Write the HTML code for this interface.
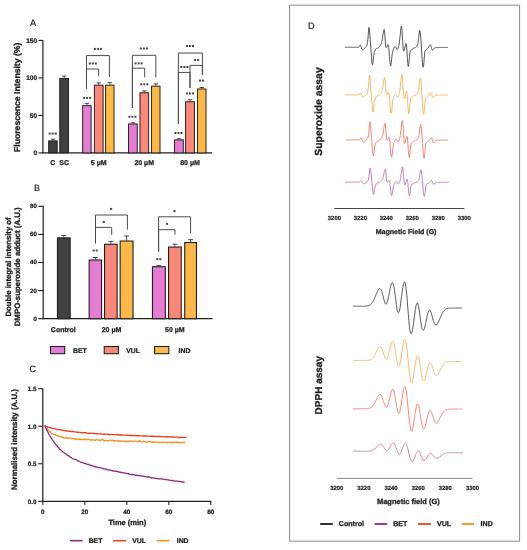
<!DOCTYPE html>
<html><head><meta charset="utf-8"><style>
html,body{margin:0;padding:0;background:#fff;}
body{width:527px;height:550px;overflow:hidden;}
svg{display:block;will-change:transform;}
text{font-family:"Liberation Sans",sans-serif;text-rendering:geometricPrecision;}
</style></head><body>
<svg width="527" height="550" viewBox="0 0 527 550">
<rect x="0" y="0" width="527" height="550" fill="#fff"/>
<text x="30.00" y="25.90" font-size="9.3" font-weight="normal" text-anchor="start" fill="#1a1a1a" stroke="#1a1a1a" stroke-width="0.15">A</text>
<line x1="42.90" y1="39.90" x2="42.90" y2="153.50" stroke="#1e1e1e" stroke-width="1.2"/>
<line x1="42.30" y1="152.90" x2="212.10" y2="152.90" stroke="#1e1e1e" stroke-width="1.2"/>
<line x1="38.40" y1="152.90" x2="42.90" y2="152.90" stroke="#1e1e1e" stroke-width="1.1"/>
<text x="37.20" y="155.25" font-size="6.6" font-weight="bold" text-anchor="end" fill="#1a1a1a" stroke="#1a1a1a" stroke-width="0.23">0</text>
<line x1="38.40" y1="115.40" x2="42.90" y2="115.40" stroke="#1e1e1e" stroke-width="1.1"/>
<text x="37.20" y="117.75" font-size="6.6" font-weight="bold" text-anchor="end" fill="#1a1a1a" stroke="#1a1a1a" stroke-width="0.23">50</text>
<line x1="38.40" y1="77.90" x2="42.90" y2="77.90" stroke="#1e1e1e" stroke-width="1.1"/>
<text x="37.20" y="80.25" font-size="6.6" font-weight="bold" text-anchor="end" fill="#1a1a1a" stroke="#1a1a1a" stroke-width="0.23">100</text>
<line x1="38.40" y1="40.40" x2="42.90" y2="40.40" stroke="#1e1e1e" stroke-width="1.1"/>
<text x="37.20" y="42.75" font-size="6.6" font-weight="bold" text-anchor="end" fill="#1a1a1a" stroke="#1a1a1a" stroke-width="0.23">150</text>
<text x="20.20" y="97.30" font-size="8.65" font-weight="bold" text-anchor="middle" fill="#1a1a1a" stroke="#1a1a1a" stroke-width="0.30" transform="rotate(-90 20.2 97.3)">Fluorescence Intensity (%)</text>
<line x1="52.95" y1="140.40" x2="52.95" y2="139.20" stroke="#1e1e1e" stroke-width="0.8"/>
<line x1="50.75" y1="139.20" x2="55.15" y2="139.20" stroke="#1e1e1e" stroke-width="0.8"/>
<rect x="48.68" y="140.88" width="8.55" height="12.03" fill="#404040" stroke="#1e1e1e" stroke-width="0.95"/>
<line x1="64.15" y1="78.00" x2="64.15" y2="76.00" stroke="#1e1e1e" stroke-width="0.8"/>
<line x1="61.95" y1="76.00" x2="66.35" y2="76.00" stroke="#1e1e1e" stroke-width="0.8"/>
<rect x="59.77" y="78.47" width="8.75" height="74.43" fill="#404040" stroke="#1e1e1e" stroke-width="0.95"/>
<line x1="86.90" y1="105.20" x2="86.90" y2="103.40" stroke="#1e1e1e" stroke-width="0.8"/>
<line x1="84.70" y1="103.40" x2="89.10" y2="103.40" stroke="#1e1e1e" stroke-width="0.8"/>
<rect x="82.67" y="105.67" width="8.45" height="47.23" fill="#E57BD3" stroke="#1e1e1e" stroke-width="0.95"/>
<line x1="98.75" y1="84.70" x2="98.75" y2="82.90" stroke="#1e1e1e" stroke-width="0.8"/>
<line x1="96.55" y1="82.90" x2="100.95" y2="82.90" stroke="#1e1e1e" stroke-width="0.8"/>
<rect x="94.38" y="85.17" width="8.75" height="67.73" fill="#F98878" stroke="#1e1e1e" stroke-width="0.95"/>
<line x1="109.80" y1="84.70" x2="109.80" y2="82.70" stroke="#1e1e1e" stroke-width="0.8"/>
<line x1="107.60" y1="82.70" x2="112.00" y2="82.70" stroke="#1e1e1e" stroke-width="0.8"/>
<rect x="105.57" y="85.17" width="8.45" height="67.73" fill="#FDB848" stroke="#1e1e1e" stroke-width="0.95"/>
<line x1="132.90" y1="123.50" x2="132.90" y2="122.80" stroke="#1e1e1e" stroke-width="0.8"/>
<line x1="130.70" y1="122.80" x2="135.10" y2="122.80" stroke="#1e1e1e" stroke-width="0.8"/>
<rect x="128.53" y="123.97" width="8.75" height="28.93" fill="#E57BD3" stroke="#1e1e1e" stroke-width="0.95"/>
<line x1="144.30" y1="92.30" x2="144.30" y2="90.90" stroke="#1e1e1e" stroke-width="0.8"/>
<line x1="142.10" y1="90.90" x2="146.50" y2="90.90" stroke="#1e1e1e" stroke-width="0.8"/>
<rect x="139.97" y="92.77" width="8.65" height="60.13" fill="#F98878" stroke="#1e1e1e" stroke-width="0.95"/>
<line x1="155.80" y1="85.70" x2="155.80" y2="83.90" stroke="#1e1e1e" stroke-width="0.8"/>
<line x1="153.60" y1="83.90" x2="158.00" y2="83.90" stroke="#1e1e1e" stroke-width="0.8"/>
<rect x="151.57" y="86.17" width="8.45" height="66.73" fill="#FDB848" stroke="#1e1e1e" stroke-width="0.95"/>
<line x1="178.90" y1="139.40" x2="178.90" y2="138.80" stroke="#1e1e1e" stroke-width="0.8"/>
<line x1="176.70" y1="138.80" x2="181.10" y2="138.80" stroke="#1e1e1e" stroke-width="0.8"/>
<rect x="174.53" y="139.88" width="8.75" height="13.03" fill="#E57BD3" stroke="#1e1e1e" stroke-width="0.95"/>
<line x1="190.00" y1="101.30" x2="190.00" y2="99.70" stroke="#1e1e1e" stroke-width="0.8"/>
<line x1="187.80" y1="99.70" x2="192.20" y2="99.70" stroke="#1e1e1e" stroke-width="0.8"/>
<rect x="185.57" y="101.77" width="8.85" height="51.13" fill="#F98878" stroke="#1e1e1e" stroke-width="0.95"/>
<line x1="201.80" y1="88.50" x2="201.80" y2="87.50" stroke="#1e1e1e" stroke-width="0.8"/>
<line x1="199.60" y1="87.50" x2="204.00" y2="87.50" stroke="#1e1e1e" stroke-width="0.8"/>
<rect x="197.57" y="88.97" width="8.45" height="63.93" fill="#FDB848" stroke="#1e1e1e" stroke-width="0.95"/>
<text x="52.90" y="164.70" font-size="7.0" font-weight="bold" text-anchor="middle" fill="#1a1a1a" stroke="#1a1a1a" stroke-width="0.25">C</text>
<text x="64.10" y="164.70" font-size="7.0" font-weight="bold" text-anchor="middle" fill="#1a1a1a" stroke="#1a1a1a" stroke-width="0.25">SC</text>
<text x="98.70" y="164.70" font-size="7.0" font-weight="bold" text-anchor="middle" fill="#1a1a1a" stroke="#1a1a1a" stroke-width="0.25">5 µM</text>
<text x="144.20" y="164.70" font-size="7.0" font-weight="bold" text-anchor="middle" fill="#1a1a1a" stroke="#1a1a1a" stroke-width="0.25">20 µM</text>
<text x="190.00" y="164.70" font-size="7.0" font-weight="bold" text-anchor="middle" fill="#1a1a1a" stroke="#1a1a1a" stroke-width="0.25">80 µM</text>
<path d="M86.50,89.00 L86.50,55.60 L109.40,55.60 L109.40,77.00" fill="none" stroke="#4a4a4a" stroke-width="1.0"/>
<path d="M86.50,89.00 L86.50,69.00 L98.70,69.00 L98.70,76.00" fill="none" stroke="#4a4a4a" stroke-width="1.0"/>
<rect x="93.85" y="47.90" width="2.00" height="2.00" fill="#454545"/>
<rect x="96.90" y="47.90" width="2.00" height="2.00" fill="#454545"/>
<rect x="99.95" y="47.90" width="2.00" height="2.00" fill="#454545"/>
<rect x="88.75" y="62.50" width="2.00" height="2.00" fill="#454545"/>
<rect x="91.80" y="62.50" width="2.00" height="2.00" fill="#454545"/>
<rect x="94.85" y="62.50" width="2.00" height="2.00" fill="#454545"/>
<rect x="83.05" y="96.90" width="2.00" height="2.00" fill="#454545"/>
<rect x="86.10" y="96.90" width="2.00" height="2.00" fill="#454545"/>
<rect x="89.15" y="96.90" width="2.00" height="2.00" fill="#454545"/>
<rect x="48.65" y="132.60" width="2.00" height="2.00" fill="#454545"/>
<rect x="51.70" y="132.60" width="2.00" height="2.00" fill="#454545"/>
<rect x="54.75" y="132.60" width="2.00" height="2.00" fill="#454545"/>
<path d="M132.40,108.00 L132.40,55.30 L155.80,55.30 L155.80,77.40" fill="none" stroke="#4a4a4a" stroke-width="1.0"/>
<path d="M132.40,108.00 L132.40,68.20 L144.70,68.20 L144.70,77.40" fill="none" stroke="#4a4a4a" stroke-width="1.0"/>
<rect x="139.85" y="47.50" width="2.00" height="2.00" fill="#454545"/>
<rect x="142.90" y="47.50" width="2.00" height="2.00" fill="#454545"/>
<rect x="145.95" y="47.50" width="2.00" height="2.00" fill="#454545"/>
<rect x="134.55" y="62.40" width="2.00" height="2.00" fill="#454545"/>
<rect x="137.60" y="62.40" width="2.00" height="2.00" fill="#454545"/>
<rect x="140.65" y="62.40" width="2.00" height="2.00" fill="#454545"/>
<rect x="140.25" y="83.30" width="2.00" height="2.00" fill="#454545"/>
<rect x="143.30" y="83.30" width="2.00" height="2.00" fill="#454545"/>
<rect x="146.35" y="83.30" width="2.00" height="2.00" fill="#454545"/>
<rect x="128.35" y="115.70" width="2.00" height="2.00" fill="#454545"/>
<rect x="131.40" y="115.70" width="2.00" height="2.00" fill="#454545"/>
<rect x="134.45" y="115.70" width="2.00" height="2.00" fill="#454545"/>
<path d="M178.40,124.00 L178.40,53.00 L202.40,53.00 L202.40,74.80" fill="none" stroke="#4a4a4a" stroke-width="1.0"/>
<path d="M190.00,88.00 L190.00,65.40 L202.40,65.40 L202.40,74.80" fill="none" stroke="#4a4a4a" stroke-width="1.0"/>
<path d="M178.40,124.00 L178.40,72.40 L190.00,72.40 L190.00,88.00" fill="none" stroke="#4a4a4a" stroke-width="1.0"/>
<rect x="185.95" y="45.00" width="2.00" height="2.00" fill="#454545"/>
<rect x="189.00" y="45.00" width="2.00" height="2.00" fill="#454545"/>
<rect x="192.05" y="45.00" width="2.00" height="2.00" fill="#454545"/>
<rect x="194.07" y="59.00" width="2.00" height="2.00" fill="#454545"/>
<rect x="197.12" y="59.00" width="2.00" height="2.00" fill="#454545"/>
<rect x="180.35" y="66.00" width="2.00" height="2.00" fill="#454545"/>
<rect x="183.40" y="66.00" width="2.00" height="2.00" fill="#454545"/>
<rect x="186.45" y="66.00" width="2.00" height="2.00" fill="#454545"/>
<rect x="199.07" y="79.60" width="2.00" height="2.00" fill="#454545"/>
<rect x="202.12" y="79.60" width="2.00" height="2.00" fill="#454545"/>
<rect x="185.95" y="92.40" width="2.00" height="2.00" fill="#454545"/>
<rect x="189.00" y="92.40" width="2.00" height="2.00" fill="#454545"/>
<rect x="192.05" y="92.40" width="2.00" height="2.00" fill="#454545"/>
<rect x="174.35" y="132.00" width="2.00" height="2.00" fill="#454545"/>
<rect x="177.40" y="132.00" width="2.00" height="2.00" fill="#454545"/>
<rect x="180.45" y="132.00" width="2.00" height="2.00" fill="#454545"/>
<text x="33.90" y="190.60" font-size="9.0" font-weight="normal" text-anchor="start" fill="#1a1a1a" stroke="#1a1a1a" stroke-width="0.15">B</text>
<line x1="43.20" y1="205.80" x2="43.20" y2="319.30" stroke="#1e1e1e" stroke-width="1.2"/>
<line x1="42.60" y1="318.70" x2="212.50" y2="318.70" stroke="#1e1e1e" stroke-width="1.2"/>
<line x1="38.20" y1="318.70" x2="43.20" y2="318.70" stroke="#1e1e1e" stroke-width="1.1"/>
<text x="37.00" y="320.60" font-size="6.2" font-weight="bold" text-anchor="end" fill="#1a1a1a" stroke="#1a1a1a" stroke-width="0.22">0</text>
<line x1="38.20" y1="290.60" x2="43.20" y2="290.60" stroke="#1e1e1e" stroke-width="1.1"/>
<text x="37.00" y="292.50" font-size="6.2" font-weight="bold" text-anchor="end" fill="#1a1a1a" stroke="#1a1a1a" stroke-width="0.22">20</text>
<line x1="38.20" y1="262.50" x2="43.20" y2="262.50" stroke="#1e1e1e" stroke-width="1.1"/>
<text x="37.00" y="264.40" font-size="6.2" font-weight="bold" text-anchor="end" fill="#1a1a1a" stroke="#1a1a1a" stroke-width="0.22">40</text>
<line x1="38.20" y1="234.40" x2="43.20" y2="234.40" stroke="#1e1e1e" stroke-width="1.1"/>
<text x="37.00" y="236.30" font-size="6.2" font-weight="bold" text-anchor="end" fill="#1a1a1a" stroke="#1a1a1a" stroke-width="0.22">60</text>
<line x1="38.20" y1="206.30" x2="43.20" y2="206.30" stroke="#1e1e1e" stroke-width="1.1"/>
<text x="37.00" y="208.20" font-size="6.2" font-weight="bold" text-anchor="end" fill="#1a1a1a" stroke="#1a1a1a" stroke-width="0.22">80</text>
<text x="10.70" y="267.00" font-size="7.7" font-weight="bold" text-anchor="middle" fill="#1a1a1a" stroke="#1a1a1a" stroke-width="0.27" transform="rotate(-90 10.7 267.0)">Double integral intensity of</text>
<text x="19.60" y="266.80" font-size="7.85" font-weight="bold" text-anchor="middle" fill="#1a1a1a" stroke="#1a1a1a" stroke-width="0.27" transform="rotate(-90 19.6 266.8)">DMPO-superoxide adduct (A.U.)</text>
<line x1="63.80" y1="237.30" x2="63.80" y2="235.50" stroke="#1e1e1e" stroke-width="0.8"/>
<line x1="61.40" y1="235.50" x2="66.20" y2="235.50" stroke="#1e1e1e" stroke-width="0.8"/>
<rect x="57.45" y="237.85" width="12.70" height="80.85" fill="#404040" stroke="#1e1e1e" stroke-width="1.1"/>
<line x1="95.35" y1="259.50" x2="95.35" y2="257.50" stroke="#1e1e1e" stroke-width="0.8"/>
<line x1="92.95" y1="257.50" x2="97.75" y2="257.50" stroke="#1e1e1e" stroke-width="0.8"/>
<rect x="89.15" y="260.05" width="12.40" height="58.65" fill="#E57BD3" stroke="#1e1e1e" stroke-width="1.1"/>
<line x1="110.85" y1="243.70" x2="110.85" y2="241.40" stroke="#1e1e1e" stroke-width="0.8"/>
<line x1="108.45" y1="241.40" x2="113.25" y2="241.40" stroke="#1e1e1e" stroke-width="0.8"/>
<rect x="104.55" y="244.25" width="12.60" height="74.45" fill="#F98878" stroke="#1e1e1e" stroke-width="1.1"/>
<line x1="126.60" y1="240.50" x2="126.60" y2="236.00" stroke="#1e1e1e" stroke-width="0.8"/>
<line x1="124.20" y1="236.00" x2="129.00" y2="236.00" stroke="#1e1e1e" stroke-width="0.8"/>
<rect x="120.15" y="241.05" width="12.90" height="77.65" fill="#FDB848" stroke="#1e1e1e" stroke-width="1.1"/>
<line x1="158.90" y1="266.20" x2="158.90" y2="265.60" stroke="#1e1e1e" stroke-width="0.8"/>
<line x1="156.50" y1="265.60" x2="161.30" y2="265.60" stroke="#1e1e1e" stroke-width="0.8"/>
<rect x="152.45" y="266.75" width="12.90" height="51.95" fill="#E57BD3" stroke="#1e1e1e" stroke-width="1.1"/>
<line x1="174.90" y1="246.50" x2="174.90" y2="244.20" stroke="#1e1e1e" stroke-width="0.8"/>
<line x1="172.50" y1="244.20" x2="177.30" y2="244.20" stroke="#1e1e1e" stroke-width="0.8"/>
<rect x="168.55" y="247.05" width="12.70" height="71.65" fill="#F98878" stroke="#1e1e1e" stroke-width="1.1"/>
<line x1="190.60" y1="242.00" x2="190.60" y2="239.70" stroke="#1e1e1e" stroke-width="0.8"/>
<line x1="188.20" y1="239.70" x2="193.00" y2="239.70" stroke="#1e1e1e" stroke-width="0.8"/>
<rect x="184.75" y="242.55" width="11.70" height="76.15" fill="#FDB848" stroke="#1e1e1e" stroke-width="1.1"/>
<text x="63.30" y="332.00" font-size="7.0" font-weight="bold" text-anchor="middle" fill="#1a1a1a" stroke="#1a1a1a" stroke-width="0.25">Control</text>
<text x="111.50" y="332.00" font-size="7.0" font-weight="bold" text-anchor="middle" fill="#1a1a1a" stroke="#1a1a1a" stroke-width="0.25">20 µM</text>
<text x="174.80" y="332.00" font-size="7.0" font-weight="bold" text-anchor="middle" fill="#1a1a1a" stroke="#1a1a1a" stroke-width="0.25">50 µM</text>
<path d="M95.50,243.30 L95.50,215.00 L127.40,215.00 L127.40,229.50" fill="none" stroke="#4a4a4a" stroke-width="1.0"/>
<path d="M95.50,243.30 L95.50,227.40 L111.70,227.40 L111.70,235.00" fill="none" stroke="#4a4a4a" stroke-width="1.0"/>
<rect x="110.10" y="207.90" width="2.00" height="2.00" fill="#454545"/>
<rect x="102.80" y="220.90" width="2.00" height="2.00" fill="#454545"/>
<rect x="92.67" y="249.50" width="2.00" height="2.00" fill="#454545"/>
<rect x="95.73" y="249.50" width="2.00" height="2.00" fill="#454545"/>
<path d="M158.60,251.60 L158.60,216.80 L190.60,216.80 L190.60,233.40" fill="none" stroke="#4a4a4a" stroke-width="1.0"/>
<path d="M158.60,251.60 L158.60,229.70 L175.00,229.70 L175.00,234.60" fill="none" stroke="#4a4a4a" stroke-width="1.0"/>
<rect x="173.50" y="210.10" width="2.00" height="2.00" fill="#454545"/>
<rect x="166.10" y="222.90" width="2.00" height="2.00" fill="#454545"/>
<rect x="156.28" y="258.20" width="2.00" height="2.00" fill="#454545"/>
<rect x="159.33" y="258.20" width="2.00" height="2.00" fill="#454545"/>
<rect x="50.50" y="346.50" width="14.20" height="7.20" fill="#E57BD3" stroke="#1e1e1e" stroke-width="1.05"/>
<text x="73.10" y="352.70" font-size="6.85" font-weight="bold" text-anchor="start" fill="#1a1a1a" stroke="#1a1a1a" stroke-width="0.24">BET</text>
<rect x="104.20" y="346.50" width="14.20" height="7.20" fill="#F98878" stroke="#1e1e1e" stroke-width="1.05"/>
<text x="126.20" y="352.70" font-size="6.85" font-weight="bold" text-anchor="start" fill="#1a1a1a" stroke="#1a1a1a" stroke-width="0.24">VUL</text>
<rect x="154.60" y="346.50" width="14.20" height="7.20" fill="#FDB848" stroke="#1e1e1e" stroke-width="1.05"/>
<text x="178.60" y="352.70" font-size="6.85" font-weight="bold" text-anchor="start" fill="#1a1a1a" stroke="#1a1a1a" stroke-width="0.24">IND</text>
<text x="29.50" y="372.00" font-size="9.0" font-weight="normal" text-anchor="start" fill="#1a1a1a" stroke="#1a1a1a" stroke-width="0.15">C</text>
<line x1="42.80" y1="388.15" x2="42.80" y2="501.90" stroke="#1e1e1e" stroke-width="1.2"/>
<line x1="42.20" y1="501.30" x2="211.30" y2="501.30" stroke="#1e1e1e" stroke-width="1.2"/>
<line x1="38.20" y1="501.30" x2="42.80" y2="501.30" stroke="#1e1e1e" stroke-width="1.1"/>
<text x="36.60" y="503.70" font-size="6.3" font-weight="bold" text-anchor="end" fill="#1a1a1a" stroke="#1a1a1a" stroke-width="0.22">0.0</text>
<line x1="38.20" y1="463.75" x2="42.80" y2="463.75" stroke="#1e1e1e" stroke-width="1.1"/>
<text x="36.60" y="466.15" font-size="6.3" font-weight="bold" text-anchor="end" fill="#1a1a1a" stroke="#1a1a1a" stroke-width="0.22">0.5</text>
<line x1="38.20" y1="426.20" x2="42.80" y2="426.20" stroke="#1e1e1e" stroke-width="1.1"/>
<text x="36.60" y="428.60" font-size="6.3" font-weight="bold" text-anchor="end" fill="#1a1a1a" stroke="#1a1a1a" stroke-width="0.22">1.0</text>
<line x1="38.20" y1="388.65" x2="42.80" y2="388.65" stroke="#1e1e1e" stroke-width="1.1"/>
<text x="36.60" y="391.05" font-size="6.3" font-weight="bold" text-anchor="end" fill="#1a1a1a" stroke="#1a1a1a" stroke-width="0.22">1.5</text>
<line x1="42.80" y1="501.30" x2="42.80" y2="504.90" stroke="#1e1e1e" stroke-width="1.1"/>
<text x="42.80" y="514.00" font-size="6.3" font-weight="bold" text-anchor="middle" fill="#1a1a1a" stroke="#1a1a1a" stroke-width="0.22">0</text>
<line x1="84.80" y1="501.30" x2="84.80" y2="504.90" stroke="#1e1e1e" stroke-width="1.1"/>
<text x="84.80" y="514.00" font-size="6.3" font-weight="bold" text-anchor="middle" fill="#1a1a1a" stroke="#1a1a1a" stroke-width="0.22">20</text>
<line x1="126.80" y1="501.30" x2="126.80" y2="504.90" stroke="#1e1e1e" stroke-width="1.1"/>
<text x="126.80" y="514.00" font-size="6.3" font-weight="bold" text-anchor="middle" fill="#1a1a1a" stroke="#1a1a1a" stroke-width="0.22">40</text>
<line x1="168.80" y1="501.30" x2="168.80" y2="504.90" stroke="#1e1e1e" stroke-width="1.1"/>
<text x="168.80" y="514.00" font-size="6.3" font-weight="bold" text-anchor="middle" fill="#1a1a1a" stroke="#1a1a1a" stroke-width="0.22">60</text>
<line x1="210.80" y1="501.30" x2="210.80" y2="504.90" stroke="#1e1e1e" stroke-width="1.1"/>
<text x="210.80" y="514.00" font-size="6.3" font-weight="bold" text-anchor="middle" fill="#1a1a1a" stroke="#1a1a1a" stroke-width="0.22">80</text>
<text x="127.30" y="525.30" font-size="7.5" font-weight="bold" text-anchor="middle" fill="#1a1a1a" stroke="#1a1a1a" stroke-width="0.26">Time (min)</text>
<text x="16.90" y="439.50" font-size="7.9" font-weight="bold" text-anchor="middle" fill="#1a1a1a" stroke="#1a1a1a" stroke-width="0.28" transform="rotate(-90 16.9 439.5)">Normalised intensity (A.U.)</text>
<path d="M45.11,426.19 L45.63,426.36 L46.16,426.53 L46.68,426.69 L47.21,426.85 L47.73,427.00 L48.26,427.15 L48.78,427.30 L49.31,427.43 L49.83,427.60 L50.36,427.75 L50.88,427.95 L51.41,428.13 L51.93,428.18 L52.45,428.25 L52.98,428.29 L53.50,428.42 L54.03,428.62 L54.55,428.74 L55.08,428.83 L55.60,428.84 L56.13,429.06 L56.65,429.42 L57.18,429.63 L57.70,429.57 L58.23,429.53 L58.75,429.59 L59.27,429.71 L59.80,429.83 L60.32,429.90 L60.85,429.98 L61.37,430.01 L61.90,430.09 L62.42,430.25 L62.95,430.33 L63.47,430.46 L64.00,430.44 L64.52,430.42 L65.05,430.52 L65.57,430.77 L66.09,431.00 L66.62,431.01 L67.14,430.93 L67.67,430.93 L68.19,431.05 L68.72,431.22 L69.24,431.28 L69.77,431.36 L70.29,431.33 L70.82,431.47 L71.34,431.44 L71.87,431.53 L72.39,431.54 L72.91,431.60 L73.44,431.74 L73.96,431.82 L74.49,431.92 L75.01,431.92 L75.54,431.92 L76.06,431.99 L76.59,432.10 L77.11,432.25 L77.64,432.31 L78.16,432.29 L78.69,432.34 L79.21,432.32 L79.73,432.39 L80.26,432.41 L80.78,432.58 L81.31,432.63 L81.83,432.63 L82.36,432.70 L82.88,432.70 L83.41,432.70 L83.93,432.64 L84.46,432.71 L84.98,432.72 L85.50,432.72 L86.03,432.83 L86.55,432.99 L87.08,433.10 L87.60,433.10 L88.13,433.26 L88.65,433.25 L89.18,433.32 L89.70,433.23 L90.23,433.31 L90.75,433.27 L91.28,433.33 L91.80,433.40 L92.32,433.46 L92.85,433.41 L93.37,433.42 L93.90,433.41 L94.42,433.50 L94.95,433.55 L95.47,433.57 L96.00,433.66 L96.52,433.62 L97.05,433.75 L97.57,433.72 L98.10,433.86 L98.62,433.91 L99.14,433.91 L99.67,433.87 L100.19,433.86 L100.72,433.97 L101.24,433.98 L101.77,434.09 L102.29,434.15 L102.82,434.21 L103.34,434.21 L103.87,434.22 L104.39,434.24 L104.92,434.24 L105.44,434.24 L105.96,434.18 L106.49,434.15 L107.01,434.11 L107.54,434.22 L108.06,434.32 L108.59,434.48 L109.11,434.53 L109.64,434.63 L110.16,434.62 L110.69,434.59 L111.21,434.43 L111.74,434.37 L112.26,434.48 L112.78,434.56 L113.31,434.68 L113.83,434.62 L114.36,434.67 L114.88,434.62 L115.41,434.55 L115.93,434.53 L116.46,434.48 L116.98,434.62 L117.51,434.71 L118.03,434.78 L118.56,434.73 L119.08,434.76 L119.60,434.85 L120.13,435.03 L120.65,435.04 L121.18,435.02 L121.70,434.98 L122.23,435.02 L122.75,435.16 L123.28,435.16 L123.80,435.11 L124.33,435.03 L124.85,435.06 L125.38,435.19 L125.90,435.15 L126.42,435.19 L126.95,435.16 L127.47,435.23 L128.00,435.36 L128.52,435.38 L129.05,435.44 L129.57,435.34 L130.10,435.29 L130.62,435.28 L131.15,435.41 L131.67,435.52 L132.20,435.55 L132.72,435.48 L133.24,435.54 L133.77,435.66 L134.29,435.66 L134.82,435.60 L135.34,435.54 L135.87,435.67 L136.39,435.62 L136.92,435.79 L137.44,435.74 L137.97,435.75 L138.49,435.63 L139.02,435.62 L139.54,435.81 L140.06,435.75 L140.59,435.85 L141.11,435.80 L141.64,435.88 L142.16,435.89 L142.69,435.88 L143.21,435.98 L143.74,435.98 L144.26,436.04 L144.79,436.01 L145.31,435.98 L145.84,435.95 L146.36,435.96 L146.88,436.03 L147.41,436.13 L147.93,436.15 L148.46,436.10 L148.98,436.11 L149.51,436.09 L150.03,436.16 L150.56,436.21 L151.08,436.20 L151.61,436.27 L152.13,436.25 L152.65,436.24 L153.18,436.26 L153.70,436.28 L154.23,436.46 L154.75,436.45 L155.28,436.54 L155.80,436.50 L156.33,436.52 L156.85,436.46 L157.38,436.38 L157.90,436.36 L158.43,436.35 L158.95,436.45 L159.47,436.50 L160.00,436.60 L160.52,436.70 L161.05,436.71 L161.57,436.60 L162.10,436.51 L162.62,436.56 L163.15,436.58 L163.67,436.64 L164.20,436.67 L164.72,436.83 L165.25,436.87 L165.77,436.88 L166.29,436.73 L166.82,436.72 L167.34,436.77 L167.87,436.92 L168.39,436.94 L168.92,437.00 L169.44,436.98 L169.97,436.95 L170.49,436.87 L171.02,436.87 L171.54,436.99 L172.07,437.11 L172.59,437.09 L173.11,436.99 L173.64,437.00 L174.16,437.08 L174.69,437.15 L175.21,437.07 L175.74,437.08 L176.26,437.13 L176.79,437.17 L177.31,437.19 L177.84,437.19 L178.36,437.31 L178.89,437.48 L179.41,437.54 L179.93,437.55 L180.46,437.41 L180.98,437.35 L181.51,437.27 L182.03,437.32 L182.56,437.38 L183.08,437.35 L183.61,437.39 L184.13,437.36 L184.66,437.41 L185.18,437.38 L185.71,437.37 L186.23,437.42" fill="none" stroke="#F03A1E" stroke-width="1.35" stroke-linejoin="round" stroke-linecap="round"/>
<path d="M45.11,426.27 L45.63,427.08 L46.16,427.83 L46.68,428.53 L47.21,429.18 L47.73,429.78 L48.26,430.35 L48.78,430.88 L49.31,431.03 L49.83,431.42 L50.36,431.77 L50.88,432.71 L51.41,433.22 L51.93,433.68 L52.45,434.02 L52.98,434.15 L53.50,434.31 L54.03,434.38 L54.55,434.73 L55.08,434.93 L55.60,435.06 L56.13,435.16 L56.65,435.43 L57.18,435.87 L57.70,436.05 L58.23,435.84 L58.75,436.01 L59.27,436.27 L59.80,436.55 L60.32,436.77 L60.85,436.90 L61.37,437.03 L61.90,436.92 L62.42,436.97 L62.95,437.10 L63.47,437.71 L64.00,437.66 L64.52,437.99 L65.05,437.90 L65.57,438.09 L66.09,437.91 L66.62,437.80 L67.14,438.07 L67.67,438.24 L68.19,438.24 L68.72,437.93 L69.24,437.88 L69.77,437.90 L70.29,438.00 L70.82,438.20 L71.34,438.42 L71.87,438.55 L72.39,438.48 L72.91,438.42 L73.44,438.67 L73.96,438.77 L74.49,439.15 L75.01,438.98 L75.54,438.98 L76.06,438.89 L76.59,439.02 L77.11,439.28 L77.64,438.96 L78.16,439.31 L78.69,439.34 L79.21,439.39 L79.73,438.94 L80.26,439.16 L80.78,439.38 L81.31,439.54 L81.83,439.34 L82.36,439.06 L82.88,439.32 L83.41,439.20 L83.93,439.63 L84.46,439.27 L84.98,439.36 L85.50,439.29 L86.03,439.79 L86.55,439.56 L87.08,439.42 L87.60,439.08 L88.13,439.19 L88.65,439.28 L89.18,439.52 L89.70,439.84 L90.23,440.04 L90.75,439.76 L91.28,439.89 L91.80,439.89 L92.32,440.17 L92.85,439.94 L93.37,439.79 L93.90,439.96 L94.42,440.28 L94.95,440.39 L95.47,440.05 L96.00,439.70 L96.52,439.69 L97.05,439.94 L97.57,440.04 L98.10,440.13 L98.62,439.99 L99.14,440.17 L99.67,440.14 L100.19,440.31 L100.72,440.13 L101.24,440.14 L101.77,439.76 L102.29,439.64 L102.82,439.47 L103.34,440.19 L103.87,440.49 L104.39,440.82 L104.92,440.46 L105.44,440.77 L105.96,440.53 L106.49,440.47 L107.01,440.35 L107.54,440.69 L108.06,440.99 L108.59,440.81 L109.11,440.59 L109.64,440.18 L110.16,440.24 L110.69,440.24 L111.21,440.55 L111.74,440.28 L112.26,440.30 L112.78,440.14 L113.31,440.59 L113.83,440.75 L114.36,441.09 L114.88,440.73 L115.41,440.62 L115.93,440.56 L116.46,440.88 L116.98,440.92 L117.51,441.00 L118.03,441.09 L118.56,441.11 L119.08,440.65 L119.60,440.57 L120.13,440.75 L120.65,441.31 L121.18,441.49 L121.70,441.35 L122.23,441.06 L122.75,440.88 L123.28,440.93 L123.80,441.06 L124.33,441.05 L124.85,441.35 L125.38,441.46 L125.90,441.48 L126.42,441.38 L126.95,441.40 L127.47,441.56 L128.00,441.51 L128.52,441.33 L129.05,441.28 L129.57,441.27 L130.10,441.29 L130.62,441.15 L131.15,440.89 L131.67,441.35 L132.20,441.33 L132.72,441.67 L133.24,441.36 L133.77,441.37 L134.29,441.16 L134.82,441.04 L135.34,441.15 L135.87,441.09 L136.39,441.30 L136.92,441.36 L137.44,441.50 L137.97,441.56 L138.49,441.23 L139.02,441.21 L139.54,440.81 L140.06,441.16 L140.59,441.38 L141.11,441.70 L141.64,441.60 L142.16,441.65 L142.69,441.63 L143.21,441.76 L143.74,441.44 L144.26,441.61 L144.79,441.46 L145.31,441.82 L145.84,441.88 L146.36,442.15 L146.88,442.25 L147.41,442.10 L147.93,441.85 L148.46,441.66 L148.98,441.60 L149.51,441.53 L150.03,441.52 L150.56,441.60 L151.08,441.90 L151.61,442.20 L152.13,442.12 L152.65,442.36 L153.18,442.03 L153.70,442.16 L154.23,441.74 L154.75,441.86 L155.28,442.00 L155.80,442.12 L156.33,442.21 L156.85,442.13 L157.38,442.19 L157.90,442.14 L158.43,442.15 L158.95,442.29 L159.47,442.31 L160.00,442.62 L160.52,442.53 L161.05,442.69 L161.57,442.21 L162.10,442.01 L162.62,442.14 L163.15,442.29 L163.67,442.51 L164.20,442.39 L164.72,442.34 L165.25,442.40 L165.77,442.52 L166.29,442.66 L166.82,442.62 L167.34,442.35 L167.87,442.50 L168.39,442.40 L168.92,442.32 L169.44,442.31 L169.97,442.52 L170.49,442.65 L171.02,442.57 L171.54,442.22 L172.07,442.19 L172.59,442.27 L173.11,442.66 L173.64,442.71 L174.16,442.22 L174.69,442.14 L175.21,442.12 L175.74,442.40 L176.26,442.39 L176.79,442.08 L177.31,442.24 L177.84,442.13 L178.36,442.46 L178.89,442.30 L179.41,442.60 L179.93,442.36 L180.46,442.49 L180.98,442.31 L181.51,442.73 L182.03,442.83 L182.56,442.76 L183.08,442.48 L183.61,442.27 L184.13,442.18 L184.66,442.23" fill="none" stroke="#F7901C" stroke-width="1.35" stroke-linejoin="round" stroke-linecap="round"/>
<path d="M45.11,426.05 L45.63,427.27 L46.16,428.45 L46.68,429.60 L47.21,430.70 L47.73,431.77 L48.26,432.81 L48.78,433.81 L49.31,434.66 L49.83,435.75 L50.36,436.55 L50.88,437.56 L51.41,438.37 L51.93,439.20 L52.45,439.92 L52.98,440.61 L53.50,441.41 L54.03,442.12 L54.55,442.92 L55.08,443.76 L55.60,444.43 L56.13,444.95 L56.65,445.53 L57.18,445.96 L57.70,446.69 L58.23,447.12 L58.75,447.81 L59.27,448.51 L59.80,449.15 L60.32,449.65 L60.85,450.07 L61.37,450.61 L61.90,451.06 L62.42,451.48 L62.95,451.95 L63.47,452.46 L64.00,452.77 L64.52,453.09 L65.05,453.36 L65.57,453.70 L66.09,454.04 L66.62,454.57 L67.14,455.14 L67.67,455.50 L68.19,455.69 L68.72,455.91 L69.24,456.19 L69.77,456.61 L70.29,456.92 L70.82,457.30 L71.34,457.59 L71.87,458.00 L72.39,458.37 L72.91,458.66 L73.44,458.92 L73.96,459.14 L74.49,459.31 L75.01,459.49 L75.54,459.46 L76.06,459.68 L76.59,459.96 L77.11,460.36 L77.64,460.64 L78.16,460.87 L78.69,461.07 L79.21,461.37 L79.73,461.76 L80.26,462.00 L80.78,462.20 L81.31,462.06 L81.83,462.37 L82.36,462.61 L82.88,462.80 L83.41,463.02 L83.93,463.11 L84.46,463.30 L84.98,463.39 L85.50,463.60 L86.03,463.88 L86.55,464.00 L87.08,464.22 L87.60,464.36 L88.13,464.54 L88.65,464.47 L89.18,464.71 L89.70,464.98 L90.23,465.26 L90.75,465.42 L91.28,465.49 L91.80,465.69 L92.32,465.72 L92.85,465.94 L93.37,466.11 L93.90,466.54 L94.42,466.70 L94.95,466.72 L95.47,466.72 L96.00,466.85 L96.52,467.20 L97.05,467.24 L97.57,467.31 L98.10,467.44 L98.62,467.57 L99.14,467.70 L99.67,467.68 L100.19,467.91 L100.72,467.93 L101.24,468.09 L101.77,468.17 L102.29,468.47 L102.82,468.64 L103.34,468.69 L103.87,468.80 L104.39,468.82 L104.92,468.96 L105.44,468.96 L105.96,469.10 L106.49,469.27 L107.01,469.63 L107.54,469.79 L108.06,469.84 L108.59,469.80 L109.11,469.90 L109.64,470.11 L110.16,470.26 L110.69,470.48 L111.21,470.46 L111.74,470.53 L112.26,470.61 L112.78,470.92 L113.31,471.05 L113.83,471.02 L114.36,470.99 L114.88,471.14 L115.41,471.25 L115.93,471.28 L116.46,471.26 L116.98,471.41 L117.51,471.54 L118.03,471.67 L118.56,471.78 L119.08,472.03 L119.60,472.06 L120.13,472.20 L120.65,472.09 L121.18,472.46 L121.70,472.52 L122.23,472.70 L122.75,472.67 L123.28,472.79 L123.80,472.91 L124.33,472.94 L124.85,473.11 L125.38,473.27 L125.90,473.34 L126.42,473.30 L126.95,473.37 L127.47,473.54 L128.00,473.72 L128.52,473.74 L129.05,473.92 L129.57,474.13 L130.10,474.29 L130.62,474.39 L131.15,474.42 L131.67,474.52 L132.20,474.49 L132.72,474.62 L133.24,474.66 L133.77,474.92 L134.29,474.89 L134.82,475.16 L135.34,475.21 L135.87,475.29 L136.39,475.29 L136.92,475.34 L137.44,475.51 L137.97,475.54 L138.49,475.57 L139.02,475.62 L139.54,475.67 L140.06,475.80 L140.59,475.92 L141.11,476.13 L141.64,476.07 L142.16,476.05 L142.69,476.00 L143.21,476.17 L143.74,476.34 L144.26,476.46 L144.79,476.57 L145.31,476.58 L145.84,476.67 L146.36,476.78 L146.88,476.93 L147.41,477.08 L147.93,476.98 L148.46,476.86 L148.98,476.94 L149.51,477.15 L150.03,477.59 L150.56,477.65 L151.08,477.73 L151.61,477.72 L152.13,477.76 L152.65,477.95 L153.18,477.97 L153.70,478.10 L154.23,478.15 L154.75,478.15 L155.28,478.16 L155.80,478.25 L156.33,478.50 L156.85,478.61 L157.38,478.58 L157.90,478.64 L158.43,478.79 L158.95,478.87 L159.47,478.87 L160.00,478.86 L160.52,478.90 L161.05,478.83 L161.57,478.86 L162.10,478.91 L162.62,479.04 L163.15,479.12 L163.67,479.19 L164.20,479.44 L164.72,479.54 L165.25,479.67 L165.77,479.52 L166.29,479.65 L166.82,479.69 L167.34,479.86 L167.87,479.81 L168.39,479.91 L168.92,480.03 L169.44,480.20 L169.97,480.32 L170.49,480.36 L171.02,480.45 L171.54,480.47 L172.07,480.41 L172.59,480.51 L173.11,480.59 L173.64,480.82 L174.16,480.81 L174.69,480.97 L175.21,481.08 L175.74,481.20 L176.26,481.14 L176.79,481.16 L177.31,481.26 L177.84,481.43 L178.36,481.46 L178.89,481.38 L179.41,481.36 L179.93,481.45 L180.46,481.59 L180.98,481.75 L181.51,481.85 L182.03,481.97 L182.56,481.95 L183.08,481.99 L183.61,482.13 L184.13,482.13" fill="none" stroke="#8F2A80" stroke-width="1.35" stroke-linejoin="round" stroke-linecap="round"/>
<line x1="70.10" y1="540.70" x2="82.60" y2="540.70" stroke="#8F2A80" stroke-width="1.6"/>
<text x="88.70" y="543.30" font-size="6.8" font-weight="bold" text-anchor="start" fill="#1a1a1a" stroke="#1a1a1a" stroke-width="0.24">BET</text>
<line x1="113.20" y1="540.70" x2="125.90" y2="540.70" stroke="#F03A1E" stroke-width="1.6"/>
<text x="132.20" y="543.30" font-size="6.8" font-weight="bold" text-anchor="start" fill="#1a1a1a" stroke="#1a1a1a" stroke-width="0.24">VUL</text>
<line x1="157.00" y1="540.70" x2="169.50" y2="540.70" stroke="#F7901C" stroke-width="1.6"/>
<text x="176.80" y="543.30" font-size="6.8" font-weight="bold" text-anchor="start" fill="#1a1a1a" stroke="#1a1a1a" stroke-width="0.24">IND</text>
<rect x="289.6" y="5.2" width="230.0" height="536.0" fill="none" stroke="#8a8a8a" stroke-width="1.0"/>
<text x="308.00" y="28.90" font-size="9.2" font-weight="normal" text-anchor="start" fill="#1a1a1a" stroke="#1a1a1a" stroke-width="0.15">D</text>
<text x="322.10" y="111.50" font-size="10.4" font-weight="bold" text-anchor="middle" fill="#1a1a1a" stroke="#1a1a1a" stroke-width="0.30" transform="rotate(-90 322.09999999999997 111.5)">Superoxide assay</text>
<text x="321.80" y="385.20" font-size="10.0" font-weight="bold" text-anchor="middle" fill="#1a1a1a" stroke="#1a1a1a" stroke-width="0.30" transform="rotate(-90 321.8 385.2)">DPPH assay</text>
<line x1="334.30" y1="208.50" x2="464.40" y2="208.50" stroke="#444" stroke-width="1.0"/>
<text x="334.40" y="219.70" font-size="5.9" font-weight="bold" text-anchor="middle" fill="#222" stroke="#222" stroke-width="0.21">3200</text>
<text x="360.36" y="219.70" font-size="5.9" font-weight="bold" text-anchor="middle" fill="#222" stroke="#222" stroke-width="0.21">3220</text>
<text x="386.32" y="219.70" font-size="5.9" font-weight="bold" text-anchor="middle" fill="#222" stroke="#222" stroke-width="0.21">3240</text>
<text x="412.28" y="219.70" font-size="5.9" font-weight="bold" text-anchor="middle" fill="#222" stroke="#222" stroke-width="0.21">3260</text>
<text x="438.24" y="219.70" font-size="5.9" font-weight="bold" text-anchor="middle" fill="#222" stroke="#222" stroke-width="0.21">3280</text>
<text x="464.20" y="219.70" font-size="5.9" font-weight="bold" text-anchor="middle" fill="#222" stroke="#222" stroke-width="0.21">3300</text>
<text x="406.10" y="233.80" font-size="7.0" font-weight="bold" text-anchor="middle" fill="#1a1a1a" stroke="#1a1a1a" stroke-width="0.25">Magnetic Field (G)</text>
<line x1="336.70" y1="478.40" x2="472.50" y2="478.40" stroke="#888" stroke-width="1.0"/>
<text x="336.70" y="489.90" font-size="5.9" font-weight="bold" text-anchor="middle" fill="#222" stroke="#222" stroke-width="0.21">3200</text>
<text x="363.86" y="489.90" font-size="5.9" font-weight="bold" text-anchor="middle" fill="#222" stroke="#222" stroke-width="0.21">3220</text>
<text x="391.02" y="489.90" font-size="5.9" font-weight="bold" text-anchor="middle" fill="#222" stroke="#222" stroke-width="0.21">3240</text>
<text x="418.18" y="489.90" font-size="5.9" font-weight="bold" text-anchor="middle" fill="#222" stroke="#222" stroke-width="0.21">3260</text>
<text x="445.34" y="489.90" font-size="5.9" font-weight="bold" text-anchor="middle" fill="#222" stroke="#222" stroke-width="0.21">3280</text>
<text x="472.50" y="489.90" font-size="5.9" font-weight="bold" text-anchor="middle" fill="#222" stroke="#222" stroke-width="0.21">3300</text>
<text x="408.40" y="503.80" font-size="7.5" font-weight="bold" text-anchor="middle" fill="#1a1a1a" stroke="#1a1a1a" stroke-width="0.26">Magnetic field (G)</text>
<line x1="320.20" y1="524.00" x2="332.80" y2="524.00" stroke="#1a1a1a" stroke-width="1.8"/>
<text x="338.80" y="526.20" font-size="7.1" font-weight="bold" text-anchor="start" fill="#1a1a1a" stroke="#1a1a1a" stroke-width="0.25">Control</text>
<line x1="374.60" y1="524.00" x2="387.40" y2="524.00" stroke="#8F2A80" stroke-width="1.8"/>
<text x="393.20" y="526.20" font-size="7.1" font-weight="bold" text-anchor="start" fill="#1a1a1a" stroke="#1a1a1a" stroke-width="0.25">BET</text>
<line x1="417.90" y1="524.00" x2="430.90" y2="524.00" stroke="#F03A1E" stroke-width="1.8"/>
<text x="437.00" y="526.20" font-size="7.1" font-weight="bold" text-anchor="start" fill="#1a1a1a" stroke="#1a1a1a" stroke-width="0.25">VUL</text>
<line x1="461.60" y1="524.00" x2="474.00" y2="524.00" stroke="#F7901C" stroke-width="1.8"/>
<text x="480.60" y="526.20" font-size="7.1" font-weight="bold" text-anchor="start" fill="#1a1a1a" stroke="#1a1a1a" stroke-width="0.25">IND</text>
<path d="M345.20,47.30 L345.45,47.30 L345.70,47.30 L345.95,47.30 L346.20,47.30 L346.45,47.30 L346.70,47.30 L346.95,47.30 L347.20,47.30 L347.45,47.30 L347.70,47.30 L347.95,47.30 L348.20,47.30 L348.45,47.30 L348.70,47.30 L348.95,47.30 L349.20,47.30 L349.45,47.30 L349.70,47.30 L349.95,47.30 L350.20,47.30 L350.45,47.30 L350.70,47.30 L350.95,47.30 L351.20,47.30 L351.45,47.30 L351.70,47.30 L351.95,47.30 L352.20,47.30 L352.45,47.30 L352.70,47.30 L352.95,47.30 L353.20,47.30 L353.45,47.30 L353.70,47.30 L353.95,47.30 L354.20,47.30 L354.45,47.30 L354.70,47.30 L354.95,47.30 L355.20,47.30 L355.45,47.30 L355.70,47.30 L355.95,47.30 L356.20,47.30 L356.45,47.30 L356.70,47.30 L356.95,47.30 L357.20,47.30 L357.45,47.30 L357.70,47.30 L357.95,47.30 L358.20,47.30 L358.45,47.30 L358.70,47.22 L358.95,46.92 L359.20,46.49 L359.45,46.01 L359.70,45.56 L359.95,45.23 L360.20,45.10 L360.45,45.26 L360.70,45.70 L360.95,46.34 L361.20,47.09 L361.45,47.87 L361.70,48.60 L361.95,49.20 L362.20,49.59 L362.45,49.70 L362.70,49.65 L362.95,49.56 L363.20,49.41 L363.45,49.23 L363.70,49.02 L363.95,48.80 L364.20,48.57 L364.45,48.33 L364.70,48.11 L364.95,47.90 L365.20,47.69 L365.45,47.46 L365.70,47.21 L365.95,46.92 L366.20,46.58 L366.45,46.18 L366.70,45.71 L366.95,45.07 L367.20,43.94 L367.45,42.43 L367.70,40.71 L367.95,38.64 L368.20,35.46 L368.45,31.94 L368.70,28.97 L368.95,27.45 L369.20,27.88 L369.45,29.66 L369.70,32.40 L369.95,35.76 L370.20,39.39 L370.45,42.92 L370.70,46.00 L370.95,49.09 L371.20,52.63 L371.45,56.28 L371.70,59.66 L371.95,62.42 L372.20,64.21 L372.45,64.68 L372.70,63.93 L372.95,62.35 L373.20,60.23 L373.45,57.89 L373.70,55.62 L373.95,53.72 L374.20,52.50 L374.45,51.75 L374.70,51.07 L374.95,50.48 L375.20,49.96 L375.45,49.54 L375.70,49.20 L375.95,48.96 L376.20,48.78 L376.45,48.63 L376.70,48.51 L376.95,48.41 L377.20,48.31 L377.45,48.22 L377.70,48.13 L377.95,48.02 L378.20,47.89 L378.45,47.74 L378.70,47.54 L378.95,47.30 L379.20,47.03 L379.45,46.72 L379.70,46.38 L379.95,46.03 L380.20,45.65 L380.45,45.27 L380.70,44.85 L380.95,44.40 L381.20,43.88 L381.45,43.30 L381.70,42.59 L381.95,41.51 L382.20,40.10 L382.45,38.46 L382.70,36.69 L382.95,34.90 L383.20,33.20 L383.45,31.70 L383.70,30.49 L383.95,29.69 L384.20,29.40 L384.45,30.36 L384.70,32.85 L384.95,36.28 L385.20,40.07 L385.45,43.62 L385.70,46.34 L385.95,47.66 L386.20,47.62 L386.45,47.32 L386.70,46.87 L386.95,46.33 L387.20,45.76 L387.45,45.23 L387.70,44.80 L387.95,44.55 L388.20,44.60 L388.45,45.65 L388.70,47.62 L388.95,50.27 L389.20,53.32 L389.45,56.54 L389.70,59.65 L389.95,62.40 L390.20,64.52 L390.45,65.78 L390.70,65.91 L390.95,64.98 L391.20,63.28 L391.45,61.07 L391.70,58.64 L391.95,56.24 L392.20,54.17 L392.45,52.70 L392.70,51.78 L392.95,50.90 L393.20,50.06 L393.45,49.27 L393.70,48.54 L393.95,47.90 L394.20,47.35 L394.45,46.91 L394.70,46.60 L394.95,46.43 L395.20,46.42 L395.45,46.63 L395.70,47.01 L395.95,47.51 L396.20,48.06 L396.45,48.60 L396.70,49.06 L396.95,49.38 L397.20,49.50 L397.45,49.38 L397.70,49.05 L397.95,48.54 L398.20,47.88 L398.45,47.10 L398.70,46.23 L398.95,45.30 L399.20,43.84 L399.45,41.84 L399.70,39.55 L399.95,37.22 L400.20,35.10 L400.45,32.90 L400.70,30.44 L400.95,28.20 L401.20,26.65 L401.45,26.23 L401.70,27.37 L401.95,29.81 L402.20,33.17 L402.45,37.07 L402.70,41.13 L402.95,44.96 L403.20,48.17 L403.45,50.38 L403.70,51.20 L403.95,50.96 L404.20,50.33 L404.45,49.39 L404.70,48.27 L404.95,47.06 L405.20,45.87 L405.45,44.81 L405.70,43.98 L405.95,43.49 L406.20,43.54 L406.45,44.97 L406.70,47.62 L406.95,51.08 L407.20,54.95 L407.45,58.82 L407.70,62.28 L407.95,64.93 L408.20,66.36 L408.45,66.26 L408.70,64.94 L408.95,62.77 L409.20,60.09 L409.45,57.23 L409.70,54.54 L409.95,52.36 L410.20,51.02 L410.45,50.64 L410.70,50.43 L410.95,50.28 L411.20,50.14 L411.45,50.00 L411.70,49.82 L411.95,49.62 L412.20,49.40 L412.45,49.18 L412.70,48.95 L412.95,48.74 L413.20,48.53 L413.45,48.35 L413.70,48.20 L413.95,48.08 L414.20,47.98 L414.45,47.89 L414.70,47.81 L414.95,47.74 L415.20,47.65 L415.45,47.55 L415.70,47.42 L415.95,47.27 L416.20,47.06 L416.45,46.78 L416.70,46.45 L416.95,46.05 L417.20,45.58 L417.45,45.05 L417.70,44.46 L417.95,43.64 L418.20,42.08 L418.45,39.97 L418.70,37.57 L418.95,35.15 L419.20,32.97 L419.45,31.30 L419.70,30.39 L419.95,30.51 L420.20,31.72 L420.45,33.84 L420.70,36.71 L420.95,40.14 L421.20,43.95 L421.45,47.98 L421.70,52.05 L421.95,55.97 L422.20,59.58 L422.45,62.69 L422.70,65.13 L422.95,66.73 L423.20,67.30 L423.45,66.57 L423.70,64.64 L423.95,61.92 L424.20,58.82 L424.45,55.74 L424.70,53.10 L424.95,51.31 L425.20,50.64 L425.45,50.28 L425.70,49.99 L425.95,49.75 L426.20,49.55 L426.45,49.39 L426.70,49.23 L426.95,49.09 L427.20,48.94 L427.45,48.78 L427.70,48.59 L427.95,48.36 L428.20,48.08 L428.45,47.69 L428.70,47.22 L428.95,46.71 L429.20,46.19 L429.45,45.70 L429.70,45.29 L429.95,44.98 L430.20,44.82 L430.45,44.87 L430.70,45.28 L430.95,45.96 L431.20,46.81 L431.45,47.74 L431.70,48.65 L431.95,49.44 L432.20,50.02 L432.45,50.29 L432.70,50.26 L432.95,50.10 L433.20,49.85 L433.45,49.53 L433.70,49.18 L433.95,48.81 L434.20,48.45 L434.45,48.14 L434.70,47.89 L434.95,47.74 L435.20,47.69 L435.45,47.67 L435.70,47.65 L435.95,47.63 L436.20,47.62 L436.45,47.60 L436.70,47.59 L436.95,47.57 L437.20,47.56 L437.45,47.55 L437.70,47.54 L437.95,47.53 L438.20,47.52 L438.45,47.52 L438.70,47.51 L438.95,47.51 L439.20,47.50 L439.45,47.50 L439.70,47.50 L439.95,47.50 L440.20,47.50 L440.45,47.50 L440.70,47.50 L440.95,47.50 L441.20,47.50 L441.45,47.50 L441.70,47.50 L441.95,47.50 L442.20,47.50 L442.45,47.50 L442.70,47.50 L442.95,47.50 L443.20,47.50 L443.45,47.50 L443.70,47.50 L443.95,47.50 L444.20,47.50 L444.45,47.50 L444.70,47.50 L444.95,47.50 L445.20,47.50 L445.45,47.50 L445.70,47.50 L445.95,47.50 L446.20,47.50 L446.45,47.50 L446.70,47.50 L446.95,47.50 L447.20,47.50 L447.45,47.50" fill="none" stroke="#2a2a2a" stroke-width="0.8" stroke-linejoin="round" stroke-linecap="round"/>
<path d="M345.20,94.90 L345.45,94.90 L345.70,94.90 L345.95,94.90 L346.20,94.90 L346.45,94.90 L346.70,94.90 L346.95,94.90 L347.20,94.90 L347.45,94.90 L347.70,94.90 L347.95,94.90 L348.20,94.90 L348.45,94.90 L348.70,94.90 L348.95,94.90 L349.20,94.90 L349.45,94.90 L349.70,94.90 L349.95,94.90 L350.20,94.90 L350.45,94.90 L350.70,94.90 L350.95,94.90 L351.20,94.90 L351.45,94.90 L351.70,94.90 L351.95,94.90 L352.20,94.90 L352.45,94.90 L352.70,94.90 L352.95,94.90 L353.20,94.90 L353.45,94.90 L353.70,94.90 L353.95,94.90 L354.20,94.90 L354.45,94.90 L354.70,94.90 L354.95,94.90 L355.20,94.90 L355.45,94.90 L355.70,94.90 L355.95,94.90 L356.20,94.90 L356.45,94.90 L356.70,94.90 L356.95,94.90 L357.20,94.90 L357.45,94.90 L357.70,94.90 L357.95,94.90 L358.20,94.90 L358.45,94.90 L358.70,94.90 L358.95,94.90 L359.20,94.82 L359.45,94.53 L359.70,94.10 L359.95,93.63 L360.20,93.19 L360.45,92.87 L360.70,92.74 L360.95,92.91 L361.20,93.34 L361.45,93.96 L361.70,94.69 L361.95,95.46 L362.20,96.17 L362.45,96.76 L362.70,97.15 L362.95,97.25 L363.20,97.21 L363.45,97.11 L363.70,96.97 L363.95,96.79 L364.20,96.59 L364.45,96.37 L364.70,96.14 L364.95,95.91 L365.20,95.70 L365.45,95.49 L365.70,95.28 L365.95,95.06 L366.20,94.81 L366.45,94.53 L366.70,94.19 L366.95,93.80 L367.20,93.34 L367.45,92.71 L367.70,91.60 L367.95,90.13 L368.20,88.45 L368.45,86.41 L368.70,83.30 L368.95,79.85 L369.20,76.93 L369.45,75.45 L369.70,75.87 L369.95,77.61 L370.20,80.30 L370.45,83.59 L370.70,87.14 L370.95,90.60 L371.20,93.63 L371.45,96.65 L371.70,100.13 L371.95,103.70 L372.20,107.01 L372.45,109.72 L372.70,111.47 L372.95,111.93 L373.20,111.19 L373.45,109.64 L373.70,107.57 L373.95,105.28 L374.20,103.05 L374.45,101.19 L374.70,100.00 L374.95,99.26 L375.20,98.60 L375.45,98.01 L375.70,97.51 L375.95,97.09 L376.20,96.76 L376.45,96.53 L376.70,96.35 L376.95,96.20 L377.20,96.08 L377.45,95.98 L377.70,95.89 L377.95,95.81 L378.20,95.71 L378.45,95.61 L378.70,95.48 L378.95,95.33 L379.20,95.14 L379.45,94.90 L379.70,94.63 L379.95,94.33 L380.20,94.00 L380.45,93.65 L380.70,93.29 L380.95,92.91 L381.20,92.50 L381.45,92.06 L381.70,91.55 L381.95,90.98 L382.20,90.28 L382.45,89.23 L382.70,87.84 L382.95,86.23 L383.20,84.50 L383.45,82.75 L383.70,81.09 L383.95,79.61 L384.20,78.43 L384.45,77.64 L384.70,77.36 L384.95,78.30 L385.20,80.74 L385.45,84.10 L385.70,87.81 L385.95,91.29 L386.20,93.96 L386.45,95.25 L386.70,95.21 L386.95,94.92 L387.20,94.48 L387.45,93.95 L387.70,93.39 L387.95,92.87 L388.20,92.45 L388.45,92.20 L388.70,92.25 L388.95,93.28 L389.20,95.21 L389.45,97.81 L389.70,100.80 L389.95,103.95 L390.20,107.00 L390.45,109.69 L390.70,111.78 L390.95,113.01 L391.20,113.14 L391.45,112.23 L391.70,110.56 L391.95,108.40 L392.20,106.01 L392.45,103.67 L392.70,101.64 L392.95,100.19 L393.20,99.29 L393.45,98.43 L393.70,97.60 L393.95,96.83 L394.20,96.12 L394.45,95.49 L394.70,94.95 L394.95,94.52 L395.20,94.21 L395.45,94.05 L395.70,94.04 L395.95,94.24 L396.20,94.62 L396.45,95.11 L396.70,95.65 L396.95,96.17 L397.20,96.62 L397.45,96.94 L397.70,97.06 L397.95,96.94 L398.20,96.62 L398.45,96.12 L398.70,95.47 L398.95,94.70 L399.20,93.85 L399.45,92.94 L399.70,91.51 L399.95,89.55 L400.20,87.30 L400.45,85.02 L400.70,82.94 L400.95,80.78 L401.20,78.38 L401.45,76.19 L401.70,74.66 L401.95,74.26 L402.20,75.36 L402.45,77.75 L402.70,81.05 L402.95,84.88 L403.20,88.86 L403.45,92.61 L403.70,95.75 L403.95,97.92 L404.20,98.72 L404.45,98.49 L404.70,97.86 L404.95,96.95 L405.20,95.85 L405.45,94.66 L405.70,93.50 L405.95,92.46 L406.20,91.64 L406.45,91.16 L406.70,91.21 L406.95,92.61 L407.20,95.21 L407.45,98.60 L407.70,102.40 L407.95,106.19 L408.20,109.58 L408.45,112.18 L408.70,113.58 L408.95,113.48 L409.20,112.19 L409.45,110.06 L409.70,107.44 L409.95,104.64 L410.20,102.00 L410.45,99.86 L410.70,98.55 L410.95,98.17 L411.20,97.97 L411.45,97.82 L411.70,97.69 L411.95,97.55 L412.20,97.37 L412.45,97.17 L412.70,96.96 L412.95,96.74 L413.20,96.52 L413.45,96.31 L413.70,96.11 L413.95,95.93 L414.20,95.78 L414.45,95.66 L414.70,95.56 L414.95,95.48 L415.20,95.40 L415.45,95.33 L415.70,95.24 L415.95,95.14 L416.20,95.02 L416.45,94.87 L416.70,94.66 L416.95,94.39 L417.20,94.07 L417.45,93.67 L417.70,93.22 L417.95,92.70 L418.20,92.11 L418.45,91.31 L418.70,89.79 L418.95,87.72 L419.20,85.37 L419.45,82.99 L419.70,80.86 L419.95,79.22 L420.20,78.33 L420.45,78.45 L420.70,79.63 L420.95,81.71 L421.20,84.52 L421.45,87.88 L421.70,91.62 L421.95,95.57 L422.20,99.55 L422.45,103.40 L422.70,106.94 L422.95,109.99 L423.20,112.38 L423.45,113.94 L423.70,114.50 L423.95,113.78 L424.20,111.89 L424.45,109.23 L424.70,106.19 L424.95,103.18 L425.20,100.59 L425.45,98.83 L425.70,98.17 L425.95,97.82 L426.20,97.54 L426.45,97.30 L426.70,97.11 L426.95,96.94 L427.20,96.80 L427.45,96.65 L427.70,96.51 L427.95,96.35 L428.20,96.16 L428.45,95.94 L428.70,95.66 L428.95,95.28 L429.20,94.82 L429.45,94.32 L429.70,93.81 L429.95,93.34 L430.20,92.93 L430.45,92.62 L430.70,92.47 L430.95,92.52 L431.20,92.92 L431.45,93.58 L431.70,94.42 L431.95,95.33 L432.20,96.22 L432.45,97.00 L432.70,97.57 L432.95,97.83 L433.20,97.80 L433.45,97.64 L433.70,97.40 L433.95,97.09 L434.20,96.74 L434.45,96.38 L434.70,96.03 L434.95,95.72 L435.20,95.48 L435.45,95.33 L435.70,95.28 L435.95,95.26 L436.20,95.24 L436.45,95.23 L436.70,95.21 L436.95,95.20 L437.20,95.18 L437.45,95.17 L437.70,95.16 L437.95,95.15 L438.20,95.14 L438.45,95.13 L438.70,95.12 L438.95,95.11 L439.20,95.11 L439.45,95.10 L439.70,95.10 L439.95,95.10 L440.20,95.10 L440.45,95.10 L440.70,95.10 L440.95,95.10 L441.20,95.10 L441.45,95.10 L441.70,95.10 L441.95,95.10 L442.20,95.10 L442.45,95.10 L442.70,95.10 L442.95,95.10 L443.20,95.10 L443.45,95.10 L443.70,95.10 L443.95,95.10 L444.20,95.10 L444.45,95.10 L444.70,95.10 L444.95,95.10 L445.20,95.10 L445.45,95.10 L445.70,95.10 L445.95,95.10 L446.20,95.10 L446.45,95.10 L446.70,95.10 L446.95,95.10 L447.20,95.10 L447.45,95.10 L447.70,95.10" fill="none" stroke="#F8A543" stroke-width="0.8" stroke-linejoin="round" stroke-linecap="round"/>
<path d="M346.30,139.90 L346.55,139.90 L346.80,139.90 L347.05,139.90 L347.30,139.90 L347.55,139.90 L347.80,139.90 L348.05,139.90 L348.30,139.90 L348.55,139.90 L348.80,139.90 L349.05,139.90 L349.30,139.90 L349.55,139.90 L349.80,139.90 L350.05,139.90 L350.30,139.90 L350.55,139.90 L350.80,139.90 L351.05,139.90 L351.30,139.90 L351.55,139.90 L351.80,139.90 L352.05,139.90 L352.30,139.90 L352.55,139.90 L352.80,139.90 L353.05,139.90 L353.30,139.90 L353.55,139.90 L353.80,139.90 L354.05,139.90 L354.30,139.90 L354.55,139.90 L354.80,139.90 L355.05,139.90 L355.30,139.90 L355.55,139.90 L355.80,139.90 L356.05,139.90 L356.30,139.90 L356.55,139.90 L356.80,139.90 L357.05,139.90 L357.30,139.90 L357.55,139.90 L357.80,139.90 L358.05,139.90 L358.30,139.90 L358.55,139.90 L358.80,139.90 L359.05,139.90 L359.30,139.90 L359.55,139.86 L359.80,139.62 L360.05,139.24 L360.30,138.80 L360.55,138.37 L360.80,138.04 L361.05,137.88 L361.30,137.97 L361.55,138.33 L361.80,138.89 L362.05,139.56 L362.30,140.28 L362.55,140.97 L362.80,141.55 L363.05,141.96 L363.30,142.11 L363.55,142.08 L363.80,142.00 L364.05,141.87 L364.30,141.71 L364.55,141.53 L364.80,141.32 L365.05,141.11 L365.30,140.89 L365.55,140.69 L365.80,140.49 L366.05,140.30 L366.30,140.09 L366.55,139.86 L366.80,139.61 L367.05,139.30 L367.30,138.95 L367.55,138.53 L367.80,138.00 L368.05,137.05 L368.30,135.72 L368.55,134.17 L368.80,132.40 L369.05,129.65 L369.30,126.40 L369.55,123.50 L369.80,121.77 L370.05,121.85 L370.30,123.26 L370.55,125.63 L370.80,128.64 L371.05,131.95 L371.30,135.24 L371.55,138.19 L371.80,140.93 L372.05,144.14 L372.30,147.50 L372.55,150.68 L372.80,153.37 L373.05,155.22 L373.30,155.91 L373.55,155.41 L373.80,154.08 L374.05,152.21 L374.30,150.08 L374.55,147.95 L374.80,146.12 L375.05,144.85 L375.30,144.13 L375.55,143.49 L375.80,142.93 L376.05,142.44 L376.30,142.03 L376.55,141.70 L376.80,141.46 L377.05,141.29 L377.30,141.15 L377.55,141.03 L377.80,140.94 L378.05,140.85 L378.30,140.77 L378.55,140.68 L378.80,140.59 L379.05,140.47 L379.30,140.33 L379.55,140.16 L379.80,139.95 L380.05,139.70 L380.30,139.42 L380.55,139.12 L380.80,138.80 L381.05,138.45 L381.30,138.10 L381.55,137.73 L381.80,137.32 L382.05,136.86 L382.30,136.33 L382.55,135.72 L382.80,134.80 L383.05,133.55 L383.30,132.08 L383.55,130.47 L383.80,128.82 L384.05,127.23 L384.30,125.80 L384.55,124.63 L384.80,123.81 L385.05,123.44 L385.30,124.01 L385.55,126.06 L385.80,129.09 L386.05,132.55 L386.30,135.90 L386.55,138.61 L386.80,140.12 L387.05,140.23 L387.30,139.99 L387.55,139.60 L387.80,139.11 L388.05,138.59 L388.30,138.09 L388.55,137.67 L388.80,137.40 L389.05,137.35 L389.30,138.11 L389.55,139.77 L389.80,142.10 L390.05,144.86 L390.30,147.81 L390.55,150.71 L390.80,153.32 L391.05,155.41 L391.30,156.74 L391.55,157.08 L391.80,156.41 L392.05,154.96 L392.30,153.00 L392.55,150.78 L392.80,148.55 L393.05,146.57 L393.30,145.08 L393.55,144.19 L393.80,143.37 L394.05,142.59 L394.30,141.85 L394.55,141.17 L394.80,140.56 L395.05,140.04 L395.30,139.61 L395.55,139.30 L395.80,139.12 L396.05,139.08 L396.30,139.23 L396.55,139.56 L396.80,140.00 L397.05,140.50 L397.30,141.00 L397.55,141.44 L397.80,141.77 L398.05,141.92 L398.30,141.85 L398.55,141.59 L398.80,141.15 L399.05,140.56 L399.30,139.87 L399.55,139.08 L399.80,138.24 L400.05,137.03 L400.30,135.28 L400.55,133.20 L400.80,131.04 L401.05,129.04 L401.30,127.09 L401.55,124.84 L401.80,122.71 L402.05,121.11 L402.30,120.49 L402.55,121.24 L402.80,123.28 L403.05,126.23 L403.30,129.75 L403.55,133.48 L403.80,137.08 L404.05,140.17 L404.30,142.42 L404.55,143.46 L404.80,143.35 L405.05,142.83 L405.30,142.01 L405.55,141.01 L405.80,139.90 L406.05,138.79 L406.30,137.79 L406.55,136.97 L406.80,136.45 L407.05,136.34 L407.30,137.39 L407.55,139.63 L407.80,142.70 L408.05,146.21 L408.30,149.80 L408.55,153.09 L408.80,155.71 L409.05,157.28 L409.30,157.46 L409.55,156.45 L409.80,154.58 L410.05,152.18 L410.30,149.56 L410.55,147.03 L410.80,144.91 L411.05,143.49 L411.30,143.02 L411.55,142.81 L411.80,142.66 L412.05,142.54 L412.30,142.41 L412.55,142.26 L412.80,142.07 L413.05,141.88 L413.30,141.67 L413.55,141.46 L413.80,141.26 L414.05,141.07 L414.30,140.90 L414.55,140.75 L414.80,140.64 L415.05,140.54 L415.30,140.46 L415.55,140.39 L415.80,140.32 L416.05,140.24 L416.30,140.15 L416.55,140.04 L416.80,139.90 L417.05,139.72 L417.30,139.48 L417.55,139.18 L417.80,138.83 L418.05,138.41 L418.30,137.94 L418.55,137.40 L418.80,136.74 L419.05,135.43 L419.30,133.57 L419.55,131.40 L419.80,129.16 L420.05,127.09 L420.30,125.44 L420.55,124.44 L420.80,124.35 L421.05,125.27 L421.30,127.07 L421.55,129.58 L421.80,132.64 L422.05,136.10 L422.30,139.78 L422.55,143.53 L422.80,147.18 L423.05,150.57 L423.30,153.53 L423.55,155.92 L423.80,157.55 L424.05,158.28 L424.30,157.86 L424.55,156.27 L424.80,153.89 L425.05,151.08 L425.30,148.21 L425.55,145.68 L425.80,143.84 L426.05,143.04 L426.30,142.71 L426.55,142.43 L426.80,142.20 L427.05,142.01 L427.30,141.85 L427.55,141.71 L427.80,141.57 L428.05,141.44 L428.30,141.29 L428.55,141.12 L428.80,140.92 L429.05,140.67 L429.30,140.34 L429.55,139.92 L429.80,139.45 L430.05,138.97 L430.30,138.52 L430.55,138.12 L430.80,137.81 L431.05,137.63 L431.30,137.63 L431.55,137.94 L431.80,138.52 L432.05,139.28 L432.30,140.13 L432.55,140.98 L432.80,141.74 L433.05,142.32 L433.30,142.63 L433.55,142.64 L433.80,142.51 L434.05,142.30 L434.30,142.01 L434.55,141.69 L434.80,141.35 L435.05,141.02 L435.30,140.72 L435.55,140.48 L435.80,140.32 L436.05,140.26 L436.30,140.24 L436.55,140.23 L436.80,140.21 L437.05,140.19 L437.30,140.18 L437.55,140.17 L437.80,140.15 L438.05,140.14 L438.30,140.13 L438.55,140.12 L438.80,140.12 L439.05,140.11 L439.30,140.10 L439.55,140.10 L439.80,140.09 L440.05,140.09 L440.30,140.09 L440.55,140.08 L440.80,140.08 L441.05,140.08 L441.30,140.08 L441.55,140.08 L441.80,140.08 L442.05,140.08 L442.30,140.08 L442.55,140.08 L442.80,140.08 L443.05,140.08 L443.30,140.08 L443.55,140.08 L443.80,140.08 L444.05,140.08 L444.30,140.08 L444.55,140.08 L444.80,140.08 L445.05,140.08 L445.30,140.08 L445.55,140.08 L445.80,140.08 L446.05,140.08 L446.30,140.08 L446.55,140.08 L446.80,140.08 L447.05,140.08 L447.30,140.08 L447.55,140.08 L447.80,140.08" fill="none" stroke="#F26450" stroke-width="0.8" stroke-linejoin="round" stroke-linecap="round"/>
<path d="M345.20,182.10 L345.45,182.10 L345.70,182.10 L345.95,182.10 L346.20,182.10 L346.45,182.10 L346.70,182.10 L346.95,182.10 L347.20,182.10 L347.45,182.10 L347.70,182.10 L347.95,182.10 L348.20,182.10 L348.45,182.10 L348.70,182.10 L348.95,182.10 L349.20,182.10 L349.45,182.10 L349.70,182.10 L349.95,182.10 L350.20,182.10 L350.45,182.10 L350.70,182.10 L350.95,182.10 L351.20,182.10 L351.45,182.10 L351.70,182.10 L351.95,182.10 L352.20,182.10 L352.45,182.10 L352.70,182.10 L352.95,182.10 L353.20,182.10 L353.45,182.10 L353.70,182.10 L353.95,182.10 L354.20,182.10 L354.45,182.10 L354.70,182.10 L354.95,182.10 L355.20,182.10 L355.45,182.10 L355.70,182.10 L355.95,182.10 L356.20,182.10 L356.45,182.10 L356.70,182.10 L356.95,182.10 L357.20,182.10 L357.45,182.10 L357.70,182.10 L357.95,182.10 L358.20,182.10 L358.45,182.10 L358.70,182.10 L358.95,182.10 L359.20,182.10 L359.45,182.10 L359.70,182.08 L359.95,181.93 L360.20,181.65 L360.45,181.31 L360.70,180.97 L360.95,180.69 L361.20,180.53 L361.45,180.56 L361.70,180.80 L361.95,181.21 L362.20,181.73 L362.45,182.28 L362.70,182.83 L362.95,183.31 L363.20,183.66 L363.45,183.82 L363.70,183.81 L363.95,183.76 L364.20,183.67 L364.45,183.54 L364.70,183.40 L364.95,183.24 L365.20,183.08 L365.45,182.91 L365.70,182.75 L365.95,182.59 L366.20,182.44 L366.45,182.28 L366.70,182.11 L366.95,181.91 L367.20,181.68 L367.45,181.42 L367.70,181.10 L367.95,180.72 L368.20,180.04 L368.45,179.05 L368.70,177.86 L368.95,176.56 L369.20,174.56 L369.45,172.04 L369.70,169.67 L369.95,168.08 L370.20,167.86 L370.45,168.79 L370.70,170.52 L370.95,172.79 L371.20,175.35 L371.45,177.95 L371.70,180.33 L371.95,182.44 L372.20,184.90 L372.45,187.52 L372.70,190.06 L372.95,192.26 L373.20,193.86 L373.45,194.61 L373.70,194.37 L373.95,193.45 L374.20,192.05 L374.45,190.41 L374.70,188.72 L374.95,187.23 L375.20,186.12 L375.45,185.51 L375.70,185.01 L375.95,184.55 L376.20,184.16 L376.45,183.82 L376.70,183.56 L376.95,183.36 L377.20,183.21 L377.45,183.10 L377.70,183.00 L377.95,182.92 L378.20,182.86 L378.45,182.79 L378.70,182.73 L378.95,182.65 L379.20,182.57 L379.45,182.46 L379.70,182.33 L379.95,182.17 L380.20,181.99 L380.45,181.77 L380.70,181.54 L380.95,181.29 L381.20,181.02 L381.45,180.75 L381.70,180.46 L381.95,180.15 L382.20,179.79 L382.45,179.39 L382.70,178.93 L382.95,178.28 L383.20,177.35 L383.45,176.22 L383.70,174.97 L383.95,173.68 L384.20,172.43 L384.45,171.28 L384.70,170.31 L384.95,169.61 L385.20,169.25 L385.45,169.47 L385.70,170.87 L385.95,173.13 L386.20,175.80 L386.45,178.47 L386.70,180.73 L386.95,182.13 L387.20,182.37 L387.45,182.22 L387.70,181.93 L387.95,181.56 L388.20,181.15 L388.45,180.76 L388.70,180.41 L388.95,180.17 L389.20,180.08 L389.45,180.52 L389.70,181.69 L389.95,183.43 L390.20,185.53 L390.45,187.82 L390.70,190.12 L390.95,192.22 L391.20,193.95 L391.45,195.13 L391.70,195.56 L391.95,195.18 L392.20,194.15 L392.45,192.68 L392.70,190.97 L392.95,189.21 L393.20,187.61 L393.45,186.35 L393.70,185.58 L393.95,184.94 L394.20,184.32 L394.45,183.74 L394.70,183.20 L394.95,182.71 L395.20,182.28 L395.45,181.94 L395.70,181.67 L395.95,181.51 L396.20,181.45 L396.45,181.54 L396.70,181.77 L396.95,182.10 L397.20,182.49 L397.45,182.88 L397.70,183.24 L397.95,183.52 L398.20,183.67 L398.45,183.65 L398.70,183.47 L398.95,183.15 L399.20,182.72 L399.45,182.19 L399.70,181.59 L399.95,180.94 L400.20,180.09 L400.45,178.78 L400.70,177.19 L400.95,175.50 L401.20,173.90 L401.45,172.40 L401.70,170.67 L401.95,168.96 L402.20,167.60 L402.45,166.93 L402.70,167.29 L402.95,168.71 L403.20,170.90 L403.45,173.58 L403.70,176.49 L403.95,179.35 L404.20,181.87 L404.45,183.78 L404.70,184.81 L404.95,184.84 L405.20,184.49 L405.45,183.90 L405.70,183.13 L405.95,182.28 L406.20,181.40 L406.45,180.59 L406.70,179.92 L406.95,179.46 L407.20,179.29 L407.45,179.89 L407.70,181.48 L407.95,183.77 L408.20,186.48 L408.45,189.30 L408.70,191.94 L408.95,194.12 L409.20,195.54 L409.45,195.90 L409.70,195.27 L409.95,193.92 L410.20,192.11 L410.45,190.07 L410.70,188.06 L410.95,186.31 L411.20,185.08 L411.45,184.58 L411.70,184.41 L411.95,184.28 L412.20,184.18 L412.45,184.09 L412.70,183.97 L412.95,183.83 L413.20,183.68 L413.45,183.52 L413.70,183.35 L413.95,183.20 L414.20,183.05 L414.45,182.91 L414.70,182.79 L414.95,182.69 L415.20,182.61 L415.45,182.55 L415.70,182.49 L415.95,182.44 L416.20,182.38 L416.45,182.31 L416.70,182.23 L416.95,182.12 L417.20,181.99 L417.45,181.81 L417.70,181.59 L417.95,181.32 L418.20,181.00 L418.45,180.64 L418.70,180.23 L418.95,179.76 L419.20,178.85 L419.45,177.47 L419.70,175.80 L419.95,174.04 L420.20,172.38 L420.45,171.00 L420.70,170.11 L420.95,169.88 L421.20,170.45 L421.45,171.73 L421.70,173.59 L421.95,175.91 L422.20,178.57 L422.45,181.42 L422.70,184.35 L422.95,187.24 L423.20,189.94 L423.45,192.34 L423.70,194.30 L423.95,195.71 L424.20,196.43 L424.45,196.30 L424.70,195.22 L424.95,193.46 L425.20,191.30 L425.45,189.04 L425.70,186.98 L425.95,185.41 L426.20,184.62 L426.45,184.34 L426.70,184.12 L426.95,183.93 L427.20,183.78 L427.45,183.65 L427.70,183.53 L427.95,183.43 L428.20,183.33 L428.45,183.21 L428.70,183.08 L428.95,182.93 L429.20,182.75 L429.45,182.50 L429.70,182.18 L429.95,181.82 L430.20,181.45 L430.45,181.09 L430.70,180.76 L430.95,180.51 L431.20,180.34 L431.45,180.31 L431.70,180.50 L431.95,180.92 L432.20,181.49 L432.45,182.15 L432.70,182.81 L432.95,183.43 L433.20,183.91 L433.45,184.21 L433.70,184.25 L433.95,184.17 L434.20,184.01 L434.45,183.80 L434.70,183.56 L434.95,183.29 L435.20,183.03 L435.45,182.79 L435.70,182.59 L435.95,182.45 L436.20,182.39 L436.45,182.37 L436.70,182.36 L436.95,182.35 L437.20,182.33 L437.45,182.32 L437.70,182.31 L437.95,182.30 L438.20,182.29 L438.45,182.28 L438.70,182.28 L438.95,182.27 L439.20,182.26 L439.45,182.26 L439.70,182.25 L439.95,182.25 L440.20,182.25 L440.45,182.25 L440.70,182.24 L440.95,182.24 L441.20,182.24 L441.45,182.24 L441.70,182.24 L441.95,182.24 L442.20,182.24 L442.45,182.24 L442.70,182.24 L442.95,182.24 L443.20,182.24 L443.45,182.24 L443.70,182.24 L443.95,182.24 L444.20,182.24 L444.45,182.24 L444.70,182.24 L444.95,182.24 L445.20,182.24 L445.45,182.24 L445.70,182.24 L445.95,182.24 L446.20,182.24 L446.45,182.24 L446.70,182.24 L446.95,182.24 L447.20,182.24 L447.45,182.24 L447.70,182.24 L447.95,182.24 L448.20,182.24 L448.45,182.24" fill="none" stroke="#B0649E" stroke-width="0.8" stroke-linejoin="round" stroke-linecap="round"/>
<path d="M353.60,306.18 L353.85,306.15 L354.10,306.15 L354.35,306.07 L354.60,306.13 L354.85,306.13 L355.10,306.17 L355.35,306.11 L355.60,306.20 L355.85,306.27 L356.10,306.33 L356.35,306.35 L356.60,306.31 L356.85,306.39 L357.10,306.33 L357.35,306.24 L357.60,306.22 L357.85,306.21 L358.10,306.24 L358.35,306.15 L358.60,306.09 L358.85,306.13 L359.10,306.12 L359.35,306.24 L359.60,306.28 L359.85,306.26 L360.10,306.14 L360.35,306.09 L360.60,306.08 L360.85,306.14 L361.10,306.16 L361.35,306.21 L361.60,306.19 L361.85,306.21 L362.10,306.30 L362.35,306.38 L362.60,306.36 L362.85,306.34 L363.10,306.25 L363.35,306.26 L363.60,306.19 L363.85,306.24 L364.10,306.17 L364.35,306.17 L364.60,306.13 L364.85,306.19 L365.10,306.16 L365.35,306.13 L365.60,306.10 L365.85,306.15 L366.10,306.12 L366.35,306.10 L366.60,306.05 L366.85,306.11 L367.10,306.09 L367.35,306.01 L367.60,305.82 L367.85,305.75 L368.10,305.79 L368.35,305.81 L368.60,305.76 L368.85,305.61 L369.10,305.44 L369.35,305.33 L369.60,305.22 L369.85,305.16 L370.10,304.91 L370.35,304.74 L370.60,304.49 L370.85,304.36 L371.10,304.10 L371.35,303.84 L371.60,303.50 L371.85,303.26 L372.10,302.96 L372.35,302.59 L372.60,302.11 L372.85,301.66 L373.10,301.30 L373.35,300.81 L373.60,300.32 L373.85,299.77 L374.10,299.35 L374.35,298.81 L374.60,298.23 L374.85,297.61 L375.10,297.04 L375.35,296.38 L375.60,295.78 L375.85,295.11 L376.10,294.53 L376.35,293.79 L376.60,293.19 L376.85,292.47 L377.10,291.87 L377.35,291.30 L377.60,290.79 L377.85,290.39 L378.10,289.88 L378.35,289.59 L378.60,289.24 L378.85,288.97 L379.10,288.71 L379.35,288.61 L379.60,288.57 L379.85,288.60 L380.10,288.75 L380.35,289.00 L380.60,289.25 L380.85,289.50 L381.10,289.93 L381.35,290.40 L381.60,290.91 L381.85,291.56 L382.10,292.35 L382.35,293.39 L382.60,294.33 L382.85,295.29 L383.10,296.17 L383.35,297.20 L383.60,298.22 L383.85,299.24 L384.10,300.17 L384.35,301.10 L384.60,301.93 L384.85,302.64 L385.10,303.26 L385.35,303.77 L385.60,303.99 L385.85,304.19 L386.10,304.12 L386.35,304.07 L386.60,303.62 L386.85,303.16 L387.10,302.52 L387.35,301.82 L387.60,300.98 L387.85,300.04 L388.10,298.93 L388.35,297.76 L388.60,296.56 L388.85,295.37 L389.10,294.08 L389.35,292.75 L389.60,291.42 L389.85,290.13 L390.10,288.86 L390.35,287.77 L390.60,286.71 L390.85,285.78 L391.10,284.81 L391.35,284.13 L391.60,283.60 L391.85,283.17 L392.10,282.86 L392.35,282.66 L392.60,282.83 L392.85,283.14 L393.10,283.63 L393.35,284.30 L393.60,285.18 L393.85,286.34 L394.10,287.61 L394.35,289.05 L394.60,290.67 L394.85,292.49 L395.10,294.44 L395.35,296.43 L395.60,298.54 L395.85,300.59 L396.10,302.62 L396.35,304.44 L396.60,306.27 L396.85,307.97 L397.10,309.45 L397.35,310.66 L397.60,311.53 L397.85,312.21 L398.10,312.60 L398.35,312.83 L398.60,312.78 L398.85,312.36 L399.10,311.89 L399.35,311.00 L399.60,310.05 L399.85,308.71 L400.10,307.35 L400.35,305.77 L400.60,303.91 L400.85,302.02 L401.10,300.15 L401.35,298.29 L401.60,296.33 L401.85,294.26 L402.10,292.45 L402.35,290.67 L402.60,289.00 L402.85,287.34 L403.10,285.87 L403.35,284.60 L403.60,283.54 L403.85,282.73 L404.10,282.23 L404.35,281.99 L404.60,281.97 L404.85,282.22 L405.10,282.79 L405.35,283.69 L405.60,284.91 L405.85,286.52 L406.10,288.42 L406.35,290.67 L406.60,293.12 L406.85,295.81 L407.10,298.76 L407.35,301.84 L407.60,305.08 L407.85,308.31 L408.10,311.50 L408.35,314.58 L408.60,317.59 L408.85,320.44 L409.10,323.20 L409.35,325.60 L409.60,327.70 L409.85,329.46 L410.10,330.97 L410.35,332.19 L410.60,333.03 L410.85,333.51 L411.10,333.66 L411.35,333.55 L411.60,333.19 L411.85,332.56 L412.10,331.71 L412.35,330.55 L412.60,329.19 L412.85,327.65 L413.10,326.06 L413.35,324.45 L413.60,322.74 L413.85,320.83 L414.10,318.80 L414.35,316.86 L414.60,315.02 L414.85,313.18 L415.10,311.43 L415.35,309.76 L415.60,308.34 L415.85,306.95 L416.10,305.78 L416.35,304.75 L416.60,303.91 L416.85,303.32 L417.10,302.96 L417.35,302.97 L417.60,303.14 L417.85,303.55 L418.10,304.25 L418.35,305.28 L418.60,306.58 L418.85,307.98 L419.10,309.43 L419.35,311.05 L419.60,312.79 L419.85,314.72 L420.10,316.56 L420.35,318.46 L420.60,320.30 L420.85,322.08 L421.10,323.69 L421.35,325.18 L421.60,326.52 L421.85,327.67 L422.10,328.59 L422.35,329.34 L422.60,329.86 L422.85,330.16 L423.10,330.35 L423.35,330.30 L423.60,330.10 L423.85,329.72 L424.10,329.20 L424.35,328.59 L424.60,327.83 L424.85,326.96 L425.10,325.96 L425.35,324.88 L425.60,323.77 L425.85,322.52 L426.10,321.21 L426.35,320.00 L426.60,318.85 L426.85,317.62 L427.10,316.34 L427.35,315.22 L427.60,314.22 L427.85,313.33 L428.10,312.47 L428.35,311.78 L428.60,311.08 L428.85,310.60 L429.10,310.30 L429.35,310.09 L429.60,310.04 L429.85,310.08 L430.10,310.36 L430.35,310.66 L430.60,311.08 L430.85,311.64 L431.10,312.40 L431.35,313.31 L431.60,314.28 L431.85,315.24 L432.10,316.21 L432.35,317.13 L432.60,318.01 L432.85,318.93 L433.10,319.87 L433.35,320.78 L433.60,321.49 L433.85,322.16 L434.10,322.74 L434.35,323.36 L434.60,323.81 L434.85,324.25 L435.10,324.56 L435.35,324.83 L435.60,325.04 L435.85,325.04 L436.10,324.93 L436.35,324.83 L436.60,324.77 L436.85,324.69 L437.10,324.38 L437.35,324.00 L437.60,323.55 L437.85,323.05 L438.10,322.52 L438.35,322.02 L438.60,321.50 L438.85,321.03 L439.10,320.35 L439.35,319.76 L439.60,319.11 L439.85,318.54 L440.10,317.90 L440.35,317.19 L440.60,316.59 L440.85,316.10 L441.10,315.60 L441.35,315.10 L441.60,314.49 L441.85,314.00 L442.10,313.49 L442.35,313.02 L442.60,312.53 L442.85,312.12 L443.10,311.82 L443.35,311.48 L443.60,311.16 L443.85,310.88 L444.10,310.57 L444.35,310.24 L444.60,309.96 L444.85,309.79 L445.10,309.64 L445.35,309.43 L445.60,309.24 L445.85,309.12 L446.10,308.96 L446.35,308.89 L446.60,308.72 L446.85,308.61 L447.10,308.50 L447.35,308.46 L447.60,308.46 L447.85,308.39 L448.10,308.34 L448.35,308.28 L448.60,308.23 L448.85,308.15 L449.10,308.07 L449.35,308.04 L449.60,308.06 L449.85,308.10 L450.10,308.15 L450.35,308.18 L450.60,308.24 L450.85,308.24 L451.10,308.21 L451.35,308.20 L451.60,308.19 L451.85,308.17 L452.10,308.12 L452.35,308.11 L452.60,308.14 L452.85,308.16 L453.10,308.14 L453.35,308.15 L453.60,308.10 L453.85,308.10 L454.10,308.06 L454.35,308.10 L454.60,308.02 L454.85,308.05 L455.10,308.07 L455.35,308.16 L455.60,308.15 L455.85,308.12 L456.10,308.07 L456.35,308.04 L456.60,308.01 L456.85,308.04 L457.10,308.11 L457.35,308.09 L457.60,308.14 L457.85,308.04 L458.10,308.05 L458.35,308.01 L458.60,308.12 L458.85,308.13 L459.10,308.05 L459.35,308.02 L459.60,308.05 L459.85,308.09 L460.10,308.04 L460.35,308.01 L460.60,308.06 L460.85,308.13 L461.10,308.11 L461.35,308.10" fill="none" stroke="#2a2a2a" stroke-width="0.8" stroke-linejoin="round" stroke-linecap="round"/>
<path d="M353.60,360.64 L353.85,360.62 L354.10,360.56 L354.35,360.57 L354.60,360.68 L354.85,360.70 L355.10,360.68 L355.35,360.57 L355.60,360.51 L355.85,360.52 L356.10,360.56 L356.35,360.56 L356.60,360.64 L356.85,360.61 L357.10,360.63 L357.35,360.60 L357.60,360.53 L357.85,360.50 L358.10,360.49 L358.35,360.57 L358.60,360.61 L358.85,360.60 L359.10,360.58 L359.35,360.57 L359.60,360.50 L359.85,360.46 L360.10,360.51 L360.35,360.53 L360.60,360.58 L360.85,360.59 L361.10,360.67 L361.35,360.68 L361.60,360.60 L361.85,360.56 L362.10,360.54 L362.35,360.58 L362.60,360.59 L362.85,360.64 L363.10,360.65 L363.35,360.67 L363.60,360.74 L363.85,360.77 L364.10,360.67 L364.35,360.63 L364.60,360.53 L364.85,360.53 L365.10,360.52 L365.35,360.54 L365.60,360.58 L365.85,360.58 L366.10,360.58 L366.35,360.55 L366.60,360.50 L366.85,360.57 L367.10,360.61 L367.35,360.51 L367.60,360.42 L367.85,360.36 L368.10,360.47 L368.35,360.50 L368.60,360.49 L368.85,360.42 L369.10,360.31 L369.35,360.23 L369.60,360.13 L369.85,360.02 L370.10,359.91 L370.35,359.81 L370.60,359.68 L370.85,359.58 L371.10,359.44 L371.35,359.36 L371.60,359.11 L371.85,358.88 L372.10,358.67 L372.35,358.49 L372.60,358.19 L372.85,357.85 L373.10,357.56 L373.35,357.25 L373.60,356.90 L373.85,356.56 L374.10,356.15 L374.35,355.70 L374.60,355.11 L374.85,354.61 L375.10,354.18 L375.35,353.71 L375.60,353.16 L375.85,352.54 L376.10,352.00 L376.35,351.54 L376.60,351.00 L376.85,350.50 L377.10,349.92 L377.35,349.46 L377.60,348.96 L377.85,348.55 L378.10,348.09 L378.35,347.67 L378.60,347.32 L378.85,346.99 L379.10,346.77 L379.35,346.58 L379.60,346.56 L379.85,346.50 L380.10,346.49 L380.35,346.55 L380.60,346.68 L380.85,346.92 L381.10,347.25 L381.35,347.68 L381.60,348.11 L381.85,348.61 L382.10,349.11 L382.35,349.84 L382.60,350.53 L382.85,351.37 L383.10,352.08 L383.35,352.91 L383.60,353.73 L383.85,354.63 L384.10,355.38 L384.35,356.16 L384.60,356.83 L384.85,357.51 L385.10,358.08 L385.35,358.57 L385.60,358.98 L385.85,359.22 L386.10,359.41 L386.35,359.47 L386.60,359.41 L386.85,359.16 L387.10,358.81 L387.35,358.38 L387.60,357.90 L387.85,357.25 L388.10,356.51 L388.35,355.59 L388.60,354.59 L388.85,353.54 L389.10,352.43 L389.35,351.39 L389.60,350.27 L389.85,349.17 L390.10,348.02 L390.35,346.99 L390.60,345.97 L390.85,345.01 L391.10,344.05 L391.35,343.25 L391.60,342.55 L391.85,341.99 L392.10,341.48 L392.35,341.28 L392.60,341.12 L392.85,341.24 L393.10,341.44 L393.35,341.89 L393.60,342.46 L393.85,343.19 L394.10,344.05 L394.35,345.13 L394.60,346.26 L394.85,347.60 L395.10,349.08 L395.35,350.67 L395.60,352.30 L395.85,353.95 L396.10,355.57 L396.35,357.15 L396.60,358.65 L396.85,360.19 L397.10,361.58 L397.35,362.83 L397.60,363.83 L397.85,364.72 L398.10,365.41 L398.35,365.90 L398.60,366.15 L398.85,366.15 L399.10,365.94 L399.35,365.57 L399.60,365.04 L399.85,364.31 L400.10,363.30 L400.35,362.08 L400.60,360.75 L400.85,359.32 L401.10,357.72 L401.35,356.08 L401.60,354.36 L401.85,352.74 L402.10,350.91 L402.35,349.11 L402.60,347.40 L402.85,345.78 L403.10,344.31 L403.35,342.89 L403.60,341.74 L403.85,340.69 L404.10,339.93 L404.35,339.44 L404.60,339.21 L404.85,339.16 L405.10,339.30 L405.35,339.79 L405.60,340.52 L405.85,341.57 L406.10,342.71 L406.35,344.21 L406.60,345.87 L406.85,347.92 L407.10,350.07 L407.35,352.41 L407.60,354.86 L407.85,357.46 L408.10,360.14 L408.35,362.79 L408.60,365.32 L408.85,367.81 L409.10,370.18 L409.35,372.51 L409.60,374.70 L409.85,376.67 L410.10,378.35 L410.35,379.71 L410.60,380.90 L410.85,381.81 L411.10,382.44 L411.35,382.74 L411.60,382.85 L411.85,382.75 L412.10,382.49 L412.35,381.88 L412.60,381.03 L412.85,379.89 L413.10,378.72 L413.35,377.34 L413.60,375.88 L413.85,374.21 L414.10,372.62 L414.35,370.87 L414.60,369.08 L414.85,367.30 L415.10,365.58 L415.35,364.00 L415.60,362.44 L415.85,361.10 L416.10,359.78 L416.35,358.68 L416.60,357.63 L416.85,356.89 L417.10,356.33 L417.35,356.03 L417.60,355.95 L417.85,356.04 L418.10,356.32 L418.35,356.87 L418.60,357.62 L418.85,358.56 L419.10,359.67 L419.35,360.98 L419.60,362.30 L419.85,363.74 L420.10,365.32 L420.35,367.08 L420.60,368.71 L420.85,370.36 L421.10,371.88 L421.35,373.40 L421.60,374.76 L421.85,376.09 L422.10,377.31 L422.35,378.37 L422.60,379.24 L422.85,379.97 L423.10,380.44 L423.35,380.80 L423.60,381.01 L423.85,381.07 L424.10,380.99 L424.35,380.61 L424.60,380.15 L424.85,379.53 L425.10,378.85 L425.35,378.03 L425.60,377.13 L425.85,376.16 L426.10,375.17 L426.35,374.08 L426.60,372.96 L426.85,371.81 L427.10,370.64 L427.35,369.45 L427.60,368.42 L427.85,367.52 L428.10,366.65 L428.35,365.74 L428.60,364.90 L428.85,364.18 L429.10,363.64 L429.35,363.19 L429.60,362.97 L429.85,362.75 L430.10,362.77 L430.35,362.87 L430.60,363.16 L430.85,363.43 L431.10,363.80 L431.35,364.19 L431.60,364.76 L431.85,365.39 L432.10,366.20 L432.35,366.96 L432.60,367.75 L432.85,368.50 L433.10,369.28 L433.35,370.03 L433.60,370.85 L433.85,371.62 L434.10,372.33 L434.35,372.93 L434.60,373.47 L434.85,374.00 L435.10,374.46 L435.35,374.92 L435.60,375.21 L435.85,375.35 L436.10,375.41 L436.35,375.40 L436.60,375.38 L436.85,375.30 L437.10,375.24 L437.35,375.14 L437.60,374.89 L437.85,374.58 L438.10,374.12 L438.35,373.74 L438.60,373.24 L438.85,372.76 L439.10,372.29 L439.35,371.82 L439.60,371.35 L439.85,370.80 L440.10,370.22 L440.35,369.70 L440.60,369.17 L440.85,368.69 L441.10,368.14 L441.35,367.67 L441.60,367.20 L441.85,366.84 L442.10,366.43 L442.35,366.00 L442.60,365.53 L442.85,365.04 L443.10,364.68 L443.35,364.44 L443.60,364.27 L443.85,363.89 L444.10,363.55 L444.35,363.23 L444.60,363.08 L444.85,362.92 L445.10,362.76 L445.35,362.62 L445.60,362.46 L445.85,362.27 L446.10,362.14 L446.35,362.00 L446.60,362.01 L446.85,361.91 L447.10,361.86 L447.35,361.80 L447.60,361.81 L447.85,361.80 L448.10,361.71 L448.35,361.69 L448.60,361.67 L448.85,361.76 L449.10,361.75 L449.35,361.75 L449.60,361.65 L449.85,361.61 L450.10,361.60 L450.35,361.62 L450.60,361.66 L450.85,361.62 L451.10,361.68 L451.35,361.72 L451.60,361.65 L451.85,361.64 L452.10,361.56 L452.35,361.61 L452.60,361.53 L452.85,361.54 L453.10,361.48 L453.35,361.46 L453.60,361.40 L453.85,361.45 L454.10,361.52 L454.35,361.58 L454.60,361.59 L454.85,361.53 L455.10,361.43 L455.35,361.43 L455.60,361.46 L455.85,361.55 L456.10,361.59 L456.35,361.58 L456.60,361.56 L456.85,361.41 L457.10,361.44 L457.35,361.45 L457.60,361.51 L457.85,361.51 L458.10,361.47 L458.35,361.48 L458.60,361.54 L458.85,361.62 L459.10,361.68 L459.35,361.63 L459.60,361.63 L459.85,361.60 L460.10,361.67 L460.35,361.64 L460.60,361.66 L460.85,361.56 L461.10,361.55 L461.35,361.53" fill="none" stroke="#F8A543" stroke-width="0.8" stroke-linejoin="round" stroke-linecap="round"/>
<path d="M353.60,408.53 L353.85,408.60 L354.10,408.75 L354.35,408.81 L354.60,408.75 L354.85,408.71 L355.10,408.69 L355.35,408.76 L355.60,408.70 L355.85,408.71 L356.10,408.53 L356.35,408.63 L356.60,408.66 L356.85,408.84 L357.10,408.74 L357.35,408.75 L357.60,408.69 L357.85,408.74 L358.10,408.81 L358.35,408.89 L358.60,408.94 L358.85,408.84 L359.10,408.79 L359.35,408.79 L359.60,408.82 L359.85,408.81 L360.10,408.78 L360.35,408.72 L360.60,408.70 L360.85,408.75 L361.10,408.75 L361.35,408.74 L361.60,408.71 L361.85,408.69 L362.10,408.68 L362.35,408.58 L362.60,408.61 L362.85,408.56 L363.10,408.59 L363.35,408.59 L363.60,408.64 L363.85,408.66 L364.10,408.58 L364.35,408.66 L364.60,408.65 L364.85,408.70 L365.10,408.60 L365.35,408.62 L365.60,408.62 L365.85,408.62 L366.10,408.58 L366.35,408.63 L366.60,408.61 L366.85,408.63 L367.10,408.60 L367.35,408.61 L367.60,408.61 L367.85,408.57 L368.10,408.50 L368.35,408.43 L368.60,408.39 L368.85,408.38 L369.10,408.32 L369.35,408.35 L369.60,408.29 L369.85,408.21 L370.10,408.01 L370.35,407.95 L370.60,407.81 L370.85,407.65 L371.10,407.40 L371.35,407.26 L371.60,407.14 L371.85,406.92 L372.10,406.64 L372.35,406.40 L372.60,406.24 L372.85,405.92 L373.10,405.57 L373.35,405.23 L373.60,404.90 L373.85,404.51 L374.10,404.05 L374.35,403.59 L374.60,403.16 L374.85,402.72 L375.10,402.23 L375.35,401.72 L375.60,401.24 L375.85,400.77 L376.10,400.26 L376.35,399.66 L376.60,399.16 L376.85,398.56 L377.10,398.13 L377.35,397.54 L377.60,397.06 L377.85,396.48 L378.10,396.05 L378.35,395.67 L378.60,395.33 L378.85,395.03 L379.10,394.83 L379.35,394.70 L379.60,394.58 L379.85,394.54 L380.10,394.47 L380.35,394.53 L380.60,394.59 L380.85,394.88 L381.10,395.17 L381.35,395.53 L381.60,396.01 L381.85,396.66 L382.10,397.35 L382.35,397.87 L382.60,398.50 L382.85,399.21 L383.10,400.04 L383.35,400.77 L383.60,401.53 L383.85,402.26 L384.10,403.07 L384.35,403.93 L384.60,404.73 L384.85,405.38 L385.10,405.81 L385.35,406.30 L385.60,406.73 L385.85,407.10 L386.10,407.23 L386.35,407.30 L386.60,407.22 L386.85,407.01 L387.10,406.62 L387.35,406.13 L387.60,405.59 L387.85,405.00 L388.10,404.28 L388.35,403.45 L388.60,402.54 L388.85,401.50 L389.10,400.50 L389.35,399.46 L389.60,398.39 L389.85,397.22 L390.10,396.07 L390.35,395.00 L390.60,393.96 L390.85,392.94 L391.10,391.99 L391.35,391.14 L391.60,390.49 L391.85,390.01 L392.10,389.60 L392.35,389.30 L392.60,389.15 L392.85,389.23 L393.10,389.42 L393.35,389.79 L393.60,390.28 L393.85,391.03 L394.10,391.92 L394.35,393.12 L394.60,394.34 L394.85,395.64 L395.10,396.96 L395.35,398.49 L395.60,400.13 L395.85,401.74 L396.10,403.27 L396.35,404.73 L396.60,406.24 L396.85,407.69 L397.10,409.06 L397.35,410.35 L397.60,411.33 L397.85,412.23 L398.10,412.85 L398.35,413.42 L398.60,413.75 L398.85,413.72 L399.10,413.50 L399.35,413.04 L399.60,412.51 L399.85,411.72 L400.10,410.70 L400.35,409.57 L400.60,408.23 L400.85,406.79 L401.10,405.24 L401.35,403.70 L401.60,402.05 L401.85,400.22 L402.10,398.37 L402.35,396.57 L402.60,394.89 L402.85,393.32 L403.10,391.93 L403.35,390.65 L403.60,389.46 L403.85,388.38 L404.10,387.54 L404.35,387.06 L404.60,386.70 L404.85,386.69 L405.10,386.78 L405.35,387.29 L405.60,387.96 L405.85,389.06 L406.10,390.37 L406.35,392.06 L406.60,393.74 L406.85,395.68 L407.10,397.77 L407.35,400.17 L407.60,402.68 L407.85,405.14 L408.10,407.80 L408.35,410.48 L408.60,413.19 L408.85,415.66 L409.10,418.11 L409.35,420.37 L409.60,422.53 L409.85,424.42 L410.10,426.19 L410.35,427.63 L410.60,428.83 L410.85,429.76 L411.10,430.46 L411.35,430.88 L411.60,430.95 L411.85,430.85 L412.10,430.45 L412.35,429.86 L412.60,429.06 L412.85,428.06 L413.10,426.79 L413.35,425.28 L413.60,423.76 L413.85,422.13 L414.10,420.43 L414.35,418.66 L414.60,416.91 L414.85,415.27 L415.10,413.54 L415.35,412.02 L415.60,410.42 L415.85,409.06 L416.10,407.75 L416.35,406.67 L416.60,405.75 L416.85,404.94 L417.10,404.29 L417.35,403.92 L417.60,403.78 L417.85,403.95 L418.10,404.31 L418.35,404.90 L418.60,405.64 L418.85,406.48 L419.10,407.58 L419.35,408.85 L419.60,410.21 L419.85,411.72 L420.10,413.25 L420.35,414.93 L420.60,416.52 L420.85,418.20 L421.10,419.79 L421.35,421.30 L421.60,422.66 L421.85,423.93 L422.10,425.14 L422.35,426.21 L422.60,427.05 L422.85,427.71 L423.10,428.26 L423.35,428.55 L423.60,428.74 L423.85,428.67 L424.10,428.65 L424.35,428.31 L424.60,427.89 L424.85,427.22 L425.10,426.53 L425.35,425.76 L425.60,424.96 L425.85,423.92 L426.10,422.82 L426.35,421.82 L426.60,420.79 L426.85,419.68 L427.10,418.43 L427.35,417.19 L427.60,416.20 L427.85,415.19 L428.10,414.32 L428.35,413.46 L428.60,412.67 L428.85,412.04 L429.10,411.48 L429.35,411.10 L429.60,410.83 L429.85,410.63 L430.10,410.50 L430.35,410.53 L430.60,410.76 L430.85,411.16 L431.10,411.64 L431.35,412.12 L431.60,412.63 L431.85,413.26 L432.10,413.92 L432.35,414.75 L432.60,415.51 L432.85,416.36 L433.10,417.07 L433.35,417.82 L433.60,418.63 L433.85,419.32 L434.10,420.02 L434.35,420.56 L434.60,421.09 L434.85,421.62 L435.10,422.00 L435.35,422.41 L435.60,422.69 L435.85,422.88 L436.10,423.04 L436.35,423.11 L436.60,423.11 L436.85,423.01 L437.10,422.87 L437.35,422.79 L437.60,422.48 L437.85,422.19 L438.10,421.76 L438.35,421.42 L438.60,420.94 L438.85,420.48 L439.10,419.98 L439.35,419.44 L439.60,418.83 L439.85,418.28 L440.10,417.77 L440.35,417.33 L440.60,416.82 L440.85,416.31 L441.10,415.84 L441.35,415.32 L441.60,414.85 L441.85,414.38 L442.10,413.96 L442.35,413.53 L442.60,413.11 L442.85,412.68 L443.10,412.31 L443.35,411.98 L443.60,411.74 L443.85,411.47 L444.10,411.24 L444.35,411.05 L444.60,410.94 L444.85,410.71 L445.10,410.50 L445.35,410.28 L445.60,410.16 L445.85,410.03 L446.10,409.91 L446.35,409.81 L446.60,409.69 L446.85,409.58 L447.10,409.49 L447.35,409.44 L447.60,409.44 L447.85,409.40 L448.10,409.37 L448.35,409.34 L448.60,409.26 L448.85,409.19 L449.10,409.13 L449.35,409.15 L449.60,409.11 L449.85,409.11 L450.10,409.09 L450.35,409.08 L450.60,409.11 L450.85,409.06 L451.10,409.09 L451.35,408.98 L451.60,409.03 L451.85,409.05 L452.10,409.04 L452.35,409.03 L452.60,409.00 L452.85,408.99 L453.10,409.04 L453.35,409.05 L453.60,409.08 L453.85,409.01 L454.10,408.99 L454.35,409.00 L454.60,409.01 L454.85,409.07 L455.10,408.96 L455.35,408.90 L455.60,408.84 L455.85,408.86 L456.10,408.95 L456.35,408.93 L456.60,409.03 L456.85,409.05 L457.10,409.13 L457.35,409.14 L457.60,409.17 L457.85,409.14 L458.10,409.15 L458.35,409.12 L458.60,409.07 L458.85,408.98 L459.10,408.91 L459.35,408.96 L459.60,408.91 L459.85,408.97 L460.10,408.92 L460.35,409.04 L460.60,409.04 L460.85,409.05 L461.10,409.02 L461.35,409.01" fill="none" stroke="#F26450" stroke-width="0.8" stroke-linejoin="round" stroke-linecap="round"/>
<path d="M353.60,451.04 L353.85,451.07 L354.10,451.09 L354.35,451.12 L354.60,451.10 L354.85,451.18 L355.10,451.09 L355.35,451.12 L355.60,451.14 L355.85,451.20 L356.10,451.14 L356.35,451.15 L356.60,451.21 L356.85,451.27 L357.10,451.28 L357.35,451.21 L357.60,451.20 L357.85,451.18 L358.10,451.22 L358.35,451.33 L358.60,451.33 L358.85,451.31 L359.10,451.23 L359.35,451.17 L359.60,451.21 L359.85,451.22 L360.10,451.24 L360.35,451.22 L360.60,451.15 L360.85,451.18 L361.10,451.17 L361.35,451.28 L361.60,451.31 L361.85,451.33 L362.10,451.20 L362.35,451.26 L362.60,451.33 L362.85,451.40 L363.10,451.33 L363.35,451.29 L363.60,451.26 L363.85,451.32 L364.10,451.33 L364.35,451.29 L364.60,451.19 L364.85,451.08 L365.10,451.16 L365.35,451.22 L365.60,451.40 L365.85,451.45 L366.10,451.39 L366.35,451.33 L366.60,451.29 L366.85,451.34 L367.10,451.30 L367.35,451.29 L367.60,451.27 L367.85,451.33 L368.10,451.29 L368.35,451.24 L368.60,451.15 L368.85,451.12 L369.10,451.07 L369.35,451.05 L369.60,451.06 L369.85,451.07 L370.10,451.10 L370.35,451.07 L370.60,451.03 L370.85,450.87 L371.10,450.79 L371.35,450.74 L371.60,450.66 L371.85,450.50 L372.10,450.32 L372.35,450.23 L372.60,450.15 L372.85,450.02 L373.10,449.95 L373.35,449.76 L373.60,449.64 L373.85,449.44 L374.10,449.27 L374.35,449.13 L374.60,448.96 L374.85,448.81 L375.10,448.54 L375.35,448.34 L375.60,448.11 L375.85,447.88 L376.10,447.54 L376.35,447.30 L376.60,447.09 L376.85,446.92 L377.10,446.65 L377.35,446.38 L377.60,446.15 L377.85,445.87 L378.10,445.64 L378.35,445.44 L378.60,445.27 L378.85,445.06 L379.10,444.97 L379.35,444.89 L379.60,444.81 L379.85,444.63 L380.10,444.45 L380.35,444.38 L380.60,444.39 L380.85,444.59 L381.10,444.64 L381.35,444.72 L381.60,444.88 L381.85,445.16 L382.10,445.41 L382.35,445.62 L382.60,445.85 L382.85,446.12 L383.10,446.43 L383.35,446.81 L383.60,447.14 L383.85,447.55 L384.10,447.83 L384.35,448.23 L384.60,448.67 L384.85,449.09 L385.10,449.49 L385.35,449.65 L385.60,449.94 L385.85,450.12 L386.10,450.34 L386.35,450.52 L386.60,450.71 L386.85,450.79 L387.10,450.80 L387.35,450.63 L387.60,450.51 L387.85,450.27 L388.10,450.10 L388.35,449.74 L388.60,449.37 L388.85,448.99 L389.10,448.62 L389.35,448.20 L389.60,447.66 L389.85,447.16 L390.10,446.69 L390.35,446.27 L390.60,445.77 L390.85,445.27 L391.10,444.82 L391.35,444.38 L391.60,444.05 L391.85,443.70 L392.10,443.44 L392.35,443.07 L392.60,442.82 L392.85,442.67 L393.10,442.69 L393.35,442.73 L393.60,442.88 L393.85,443.08 L394.10,443.35 L394.35,443.58 L394.60,444.02 L394.85,444.49 L395.10,445.12 L395.35,445.64 L395.60,446.30 L395.85,447.00 L396.10,447.77 L396.35,448.56 L396.60,449.28 L396.85,450.10 L397.10,450.72 L397.35,451.39 L397.60,451.99 L397.85,452.63 L398.10,453.13 L398.35,453.44 L398.60,453.82 L398.85,454.00 L399.10,454.23 L399.35,454.23 L399.60,454.28 L399.85,454.18 L400.10,453.91 L400.35,453.52 L400.60,453.05 L400.85,452.54 L401.10,452.08 L401.35,451.49 L401.60,450.94 L401.85,450.20 L402.10,449.52 L402.35,448.79 L402.60,448.13 L402.85,447.39 L403.10,446.78 L403.35,446.11 L403.60,445.45 L403.85,444.88 L404.10,444.41 L404.35,444.06 L404.60,443.80 L404.85,443.57 L405.10,443.40 L405.35,443.22 L405.60,443.30 L405.85,443.51 L406.10,443.87 L406.35,444.29 L406.60,444.77 L406.85,445.34 L407.10,446.05 L407.35,446.89 L407.60,447.78 L407.85,448.77 L408.10,449.86 L408.35,450.91 L408.60,451.98 L408.85,453.07 L409.10,454.23 L409.35,455.31 L409.60,456.41 L409.85,457.34 L410.10,458.21 L410.35,458.96 L410.60,459.60 L410.85,460.19 L411.10,460.69 L411.35,461.10 L411.60,461.37 L411.85,461.53 L412.10,461.65 L412.35,461.63 L412.60,461.44 L412.85,461.15 L413.10,460.83 L413.35,460.40 L413.60,460.05 L413.85,459.53 L414.10,458.94 L414.35,458.21 L414.60,457.54 L414.85,456.82 L415.10,456.11 L415.35,455.50 L415.60,454.84 L415.85,454.21 L416.10,453.58 L416.35,453.14 L416.60,452.61 L416.85,452.17 L417.10,451.71 L417.35,451.51 L417.60,451.24 L417.85,451.09 L418.10,450.98 L418.35,451.01 L418.60,451.09 L418.85,451.35 L419.10,451.59 L419.35,452.02 L419.60,452.35 L419.85,452.78 L420.10,453.24 L420.35,453.85 L420.60,454.57 L420.85,455.32 L421.10,455.97 L421.35,456.56 L421.60,457.05 L421.85,457.62 L422.10,458.18 L422.35,458.62 L422.60,459.10 L422.85,459.51 L423.10,459.99 L423.35,460.14 L423.60,460.27 L423.85,460.29 L424.10,460.32 L424.35,460.27 L424.60,460.16 L424.85,460.10 L425.10,459.96 L425.35,459.82 L425.60,459.51 L425.85,459.12 L426.10,458.73 L426.35,458.39 L426.60,458.07 L426.85,457.69 L427.10,457.23 L427.35,456.81 L427.60,456.30 L427.85,455.92 L428.10,455.52 L428.35,455.18 L428.60,454.83 L428.85,454.43 L429.10,454.12 L429.35,453.87 L429.60,453.68 L429.85,453.51 L430.10,453.49 L430.35,453.49 L430.60,453.47 L430.85,453.37 L431.10,453.49 L431.35,453.54 L431.60,453.74 L431.85,453.92 L432.10,454.24 L432.35,454.55 L432.60,454.77 L432.85,455.10 L433.10,455.39 L433.35,455.75 L433.60,456.06 L433.85,456.37 L434.10,456.70 L434.35,456.95 L434.60,457.18 L434.85,457.35 L435.10,457.56 L435.35,457.70 L435.60,457.78 L435.85,457.86 L436.10,458.03 L436.35,458.15 L436.60,458.23 L436.85,458.35 L437.10,458.41 L437.35,458.38 L437.60,458.18 L437.85,458.11 L438.10,457.99 L438.35,457.94 L438.60,457.77 L438.85,457.70 L439.10,457.46 L439.35,457.29 L439.60,456.98 L439.85,456.80 L440.10,456.61 L440.35,456.50 L440.60,456.23 L440.85,456.01 L441.10,455.79 L441.35,455.66 L441.60,455.40 L441.85,455.17 L442.10,454.96 L442.35,454.85 L442.60,454.70 L442.85,454.60 L443.10,454.43 L443.35,454.21 L443.60,454.03 L443.85,453.95 L444.10,453.83 L444.35,453.72 L444.60,453.50 L444.85,453.41 L445.10,453.32 L445.35,453.30 L445.60,453.29 L445.85,453.24 L446.10,453.17 L446.35,453.02 L446.60,452.99 L446.85,452.92 L447.10,452.94 L447.35,452.87 L447.60,452.79 L447.85,452.82 L448.10,452.77 L448.35,452.72 L448.60,452.66 L448.85,452.65 L449.10,452.69 L449.35,452.74 L449.60,452.75 L449.85,452.75 L450.10,452.78 L450.35,452.72 L450.60,452.73 L450.85,452.68 L451.10,452.80 L451.35,452.87 L451.60,452.80 L451.85,452.76 L452.10,452.67 L452.35,452.68 L452.60,452.63 L452.85,452.58 L453.10,452.61 L453.35,452.67 L453.60,452.69 L453.85,452.71 L454.10,452.66 L454.35,452.66 L454.60,452.53 L454.85,452.60 L455.10,452.67 L455.35,452.77 L455.60,452.71 L455.85,452.63 L456.10,452.67 L456.35,452.68 L456.60,452.76 L456.85,452.75 L457.10,452.70 L457.35,452.62 L457.60,452.63 L457.85,452.63 L458.10,452.70 L458.35,452.73 L458.60,452.75 L458.85,452.77 L459.10,452.73 L459.35,452.81 L459.60,452.76 L459.85,452.76 L460.10,452.76 L460.35,452.87 L460.60,452.90 L460.85,452.91 L461.10,452.79 L461.35,452.77 L461.60,452.73 L461.85,452.78 L462.10,452.78 L462.35,452.85 L462.60,452.86" fill="none" stroke="#B0649E" stroke-width="0.8" stroke-linejoin="round" stroke-linecap="round"/>
</svg>
</body></html>
